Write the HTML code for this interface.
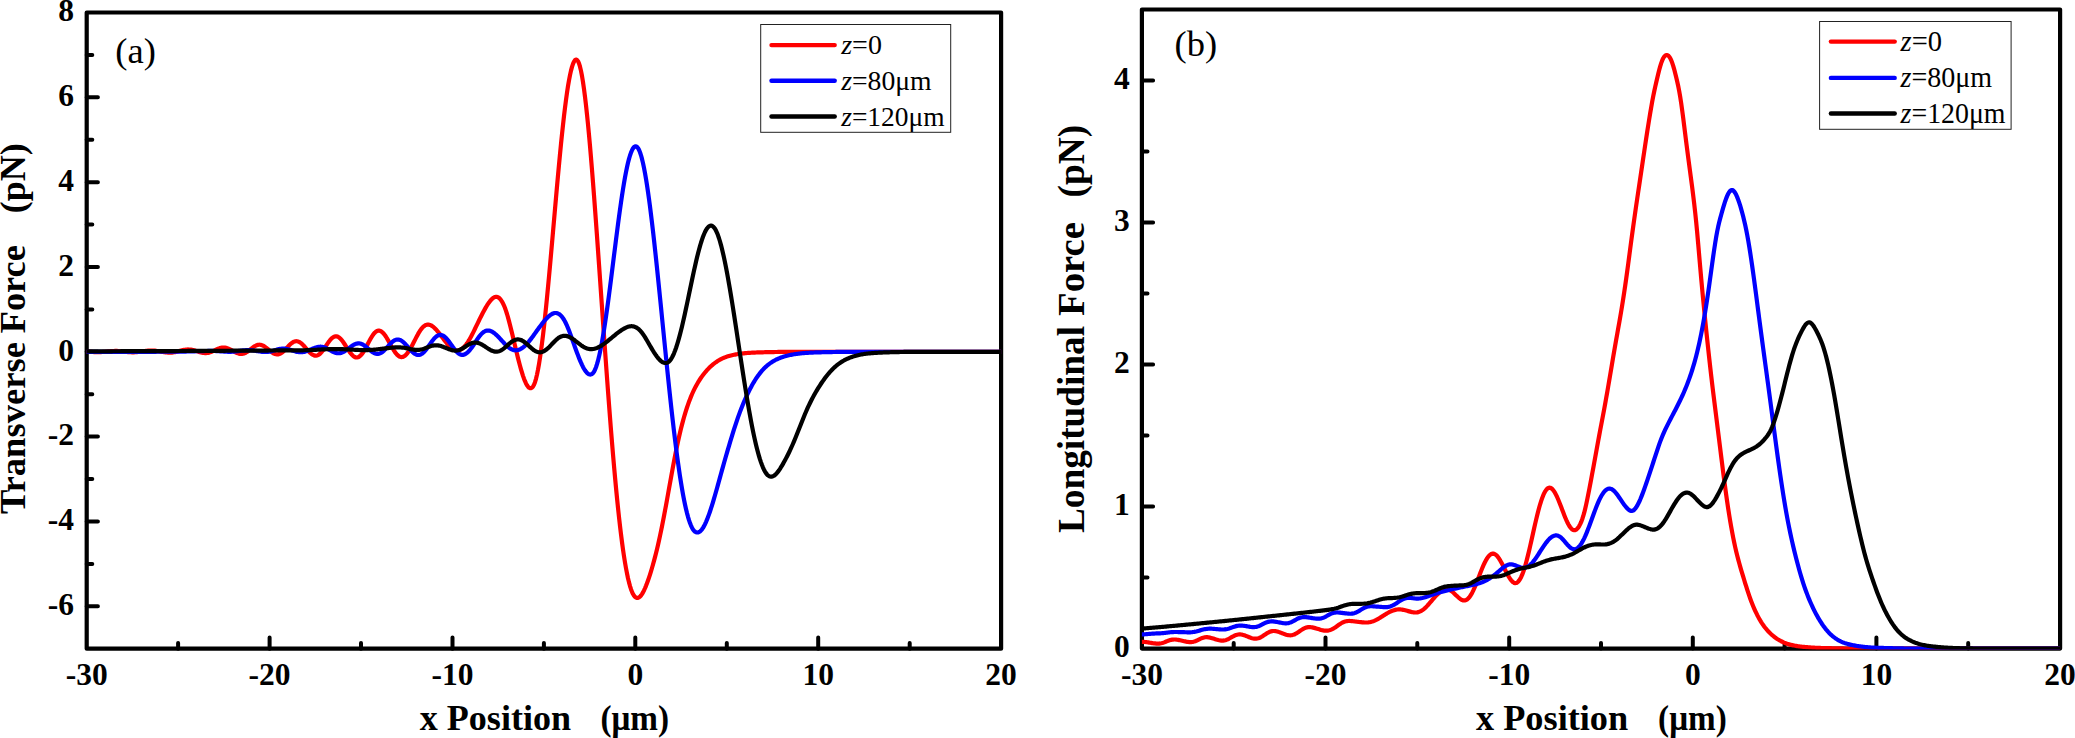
<!DOCTYPE html><html><head><meta charset="utf-8"><title>Optical force plots</title>
<style>html,body{margin:0;padding:0;background:#fff}svg{display:block}text{font-family:"Liberation Serif","DejaVu Serif",serif;fill:#000}.tk{font-weight:bold;font-size:31.5px}.ax{font-weight:bold;font-size:35px}.lg{font-size:28px}.pl{font-size:36.5px}</style></head><body>
<svg width="2075" height="738" viewBox="0 0 2075 738">
<rect width="2075" height="738" fill="#fff"/>
<defs><clipPath id="ca"><rect x="86.7" y="12.5" width="914.4" height="637.0"/></clipPath><clipPath id="cb"><rect x="1141.9" y="9.5" width="918.1500000000001" height="639.9"/></clipPath></defs>
<rect x="86.7" y="12.5" width="914.4" height="636.2" fill="none" stroke="#000" stroke-width="4.2" stroke-linejoin="round"/><text class="tk" x="86.7" y="685.4" text-anchor="middle">-30</text><text class="tk" x="269.6" y="685.4" text-anchor="middle">-20</text><text class="tk" x="452.5" y="685.4" text-anchor="middle">-10</text><text class="tk" x="635.3" y="685.4" text-anchor="middle">0</text><text class="tk" x="818.2" y="685.4" text-anchor="middle">10</text><text class="tk" x="1001.1" y="685.4" text-anchor="middle">20</text><text class="tk" x="74" y="615.1" text-anchor="end">-6</text><text class="tk" x="74" y="530.2" text-anchor="end">-4</text><text class="tk" x="74" y="445.4" text-anchor="end">-2</text><text class="tk" x="74" y="360.6" text-anchor="end">0</text><text class="tk" x="74" y="275.8" text-anchor="end">2</text><text class="tk" x="74" y="191.0" text-anchor="end">4</text><text class="tk" x="74" y="106.1" text-anchor="end">6</text><text class="tk" x="74" y="21.3" text-anchor="end">8</text><path d="M178.1,648.7V643.1M269.6,648.7V637.5M361.0,648.7V643.1M452.5,648.7V637.5M543.9,648.7V643.1M635.3,648.7V637.5M726.8,648.7V643.1M818.2,648.7V637.5M909.7,648.7V643.1M86.7,606.3H97.9M86.7,563.9H92.3M86.7,521.4H97.9M86.7,479.0H92.3M86.7,436.6H97.9M86.7,394.2H92.3M86.7,351.8H97.9M86.7,309.4H92.3M86.7,267.0H97.9M86.7,224.6H92.3M86.7,182.2H97.9M86.7,139.8H92.3M86.7,97.3H97.9M86.7,54.9H92.3" stroke="#000" stroke-width="4" stroke-linecap="round" fill="none"/>
<rect x="1141.9" y="9.5" width="918.2" height="639.1" fill="none" stroke="#000" stroke-width="4.2" stroke-linejoin="round"/><text class="tk" x="1141.9" y="685.4" text-anchor="middle">-30</text><text class="tk" x="1325.5" y="685.4" text-anchor="middle">-20</text><text class="tk" x="1509.2" y="685.4" text-anchor="middle">-10</text><text class="tk" x="1692.8" y="685.4" text-anchor="middle">0</text><text class="tk" x="1876.4" y="685.4" text-anchor="middle">10</text><text class="tk" x="2060.1" y="685.4" text-anchor="middle">20</text><text class="tk" x="1129.8" y="656.9" text-anchor="end">0</text><text class="tk" x="1129.8" y="514.9" text-anchor="end">1</text><text class="tk" x="1129.8" y="372.9" text-anchor="end">2</text><text class="tk" x="1129.8" y="230.9" text-anchor="end">3</text><text class="tk" x="1129.8" y="88.9" text-anchor="end">4</text><path d="M1233.7,648.6V643.0M1325.5,648.6V637.4M1417.3,648.6V643.0M1509.2,648.6V637.4M1601.0,648.6V643.0M1692.8,648.6V637.4M1784.6,648.6V643.0M1876.4,648.6V637.4M1968.2,648.6V643.0M1141.9,577.6H1147.5M1141.9,506.6H1153.1M1141.9,435.6H1147.5M1141.9,364.6H1153.1M1141.9,293.6H1147.5M1141.9,222.6H1153.1M1141.9,151.6H1147.5M1141.9,80.6H1153.1" stroke="#000" stroke-width="4" stroke-linecap="round" fill="none"/>
<g clip-path="url(#ca)">
<path d="M86.0,351.80 L87.0,351.81 L88.0,351.83 L89.0,351.85 L90.0,351.88 L91.0,351.92 L92.0,351.97 L93.0,352.01 L94.0,352.05 L95.0,352.09 L96.0,352.12 L97.0,352.14 L98.0,352.14 L99.0,352.13 L100.0,352.10 L101.0,352.06 L102.0,352.00 L103.0,351.92 L104.0,351.84 L105.0,351.74 L106.0,351.64 L107.0,351.54 L108.0,351.43 L109.0,351.33 L110.0,351.24 L111.0,351.15 L112.0,351.08 L113.0,351.02 L114.0,350.98 L115.0,350.96 L116.0,350.95 L117.0,350.97 L118.0,351.01 L119.0,351.07 L120.0,351.14 L121.0,351.24 L122.0,351.34 L123.0,351.46 L124.0,351.58 L125.0,351.70 L126.0,351.83 L127.0,351.94 L128.0,352.04 L129.0,352.14 L130.0,352.21 L131.0,352.26 L132.0,352.30 L133.0,352.31 L134.0,352.29 L135.0,352.26 L136.0,352.19 L137.0,352.11 L138.0,352.01 L139.0,351.89 L140.0,351.75 L141.0,351.61 L142.0,351.46 L143.0,351.31 L144.0,351.16 L145.0,351.02 L146.0,350.89 L147.0,350.78 L148.0,350.68 L149.0,350.61 L150.0,350.55 L151.0,350.53 L152.0,350.53 L153.0,350.57 L154.0,350.63 L155.0,350.71 L156.0,350.82 L157.0,350.96 L158.0,351.11 L159.0,351.28 L160.0,351.45 L161.0,351.63 L162.0,351.81 L163.0,351.98 L164.0,352.14 L165.0,352.29 L166.0,352.41 L167.0,352.52 L168.0,352.60 L169.0,352.64 L170.0,352.65 L171.0,352.62 L172.0,352.55 L173.0,352.44 L174.0,352.29 L175.0,352.10 L176.0,351.89 L177.0,351.64 L178.0,351.38 L179.0,351.11 L180.0,350.84 L181.0,350.58 L182.0,350.33 L183.0,350.10 L184.0,349.90 L185.0,349.73 L186.0,349.59 L187.0,349.51 L188.0,349.47 L189.0,349.48 L190.0,349.55 L191.0,349.67 L192.0,349.84 L193.0,350.06 L194.0,350.32 L195.0,350.61 L196.0,350.93 L197.0,351.25 L198.0,351.58 L199.0,351.89 L200.0,352.19 L201.0,352.45 L202.0,352.68 L203.0,352.87 L204.0,353.00 L205.0,353.07 L206.0,353.06 L207.0,352.99 L208.0,352.84 L209.0,352.61 L210.0,352.32 L211.0,351.97 L212.0,351.55 L213.0,351.10 L214.0,350.63 L215.0,350.15 L216.0,349.67 L217.0,349.21 L218.0,348.79 L219.0,348.41 L220.0,348.09 L221.0,347.84 L222.0,347.66 L223.0,347.57 L224.0,347.57 L225.0,347.66 L226.0,347.85 L227.0,348.11 L228.0,348.46 L229.0,348.88 L230.0,349.36 L231.0,349.89 L232.0,350.43 L233.0,350.99 L234.0,351.54 L235.0,352.06 L236.0,352.54 L237.0,352.98 L238.0,353.35 L239.0,353.64 L240.0,353.83 L241.0,353.92 L242.0,353.89 L243.0,353.74 L244.0,353.46 L245.0,353.07 L246.0,352.56 L247.0,351.94 L248.0,351.24 L249.0,350.47 L250.0,349.67 L251.0,348.87 L252.0,348.07 L253.0,347.32 L254.0,346.62 L255.0,346.01 L256.0,345.50 L257.0,345.11 L258.0,344.84 L259.0,344.71 L260.0,344.73 L261.0,344.89 L262.0,345.20 L263.0,345.63 L264.0,346.18 L265.0,346.84 L266.0,347.58 L267.0,348.38 L268.0,349.21 L269.0,350.05 L270.0,350.88 L271.0,351.67 L272.0,352.40 L273.0,353.04 L274.0,353.58 L275.0,353.99 L276.0,354.27 L277.0,354.40 L278.0,354.36 L279.0,354.15 L280.0,353.78 L281.0,353.25 L282.0,352.58 L283.0,351.77 L284.0,350.85 L285.0,349.84 L286.0,348.78 L287.0,347.69 L288.0,346.61 L289.0,345.56 L290.0,344.57 L291.0,343.66 L292.0,342.87 L293.0,342.22 L294.0,341.72 L295.0,341.38 L296.0,341.21 L297.0,341.24 L298.0,341.45 L299.0,341.84 L300.0,342.39 L301.0,343.10 L302.0,343.96 L303.0,344.93 L304.0,345.99 L305.0,347.12 L306.0,348.28 L307.0,349.44 L308.0,350.57 L309.0,351.65 L310.0,352.66 L311.0,353.56 L312.0,354.32 L313.0,354.94 L314.0,355.39 L315.0,355.65 L316.0,355.70 L317.0,355.52 L318.0,355.14 L319.0,354.54 L320.0,353.74 L321.0,352.75 L322.0,351.58 L323.0,350.27 L324.0,348.85 L325.0,347.37 L326.0,345.85 L327.0,344.33 L328.0,342.86 L329.0,341.46 L330.0,340.18 L331.0,339.03 L332.0,338.07 L333.0,337.30 L334.0,336.74 L335.0,336.40 L336.0,336.30 L337.0,336.45 L338.0,336.83 L339.0,337.44 L340.0,338.26 L341.0,339.27 L342.0,340.45 L343.0,341.79 L344.0,343.24 L345.0,344.77 L346.0,346.34 L347.0,347.93 L348.0,349.49 L349.0,351.00 L350.0,352.42 L351.0,353.72 L352.0,354.86 L353.0,355.82 L354.0,356.59 L355.0,357.13 L356.0,357.44 L357.0,357.49 L358.0,357.27 L359.0,356.79 L360.0,356.07 L361.0,355.11 L362.0,353.92 L363.0,352.53 L364.0,350.95 L365.0,349.22 L366.0,347.39 L367.0,345.49 L368.0,343.57 L369.0,341.65 L370.0,339.78 L371.0,338.00 L372.0,336.34 L373.0,334.85 L374.0,333.55 L375.0,332.48 L376.0,331.63 L377.0,331.03 L378.0,330.68 L379.0,330.61 L380.0,330.80 L381.0,331.25 L382.0,331.94 L383.0,332.86 L384.0,333.98 L385.0,335.29 L386.0,336.76 L387.0,338.37 L388.0,340.08 L389.0,341.85 L390.0,343.67 L391.0,345.49 L392.0,347.27 L393.0,349.00 L394.0,350.63 L395.0,352.13 L396.0,353.47 L397.0,354.62 L398.0,355.57 L399.0,356.30 L400.0,356.80 L401.0,357.06 L402.0,357.07 L403.0,356.84 L404.0,356.36 L405.0,355.66 L406.0,354.75 L407.0,353.64 L408.0,352.34 L409.0,350.87 L410.0,349.25 L411.0,347.52 L412.0,345.68 L413.0,343.78 L414.0,341.83 L415.0,339.87 L416.0,337.91 L417.0,336.00 L418.0,334.16 L419.0,332.42 L420.0,330.81 L421.0,329.36 L422.0,328.10 L423.0,327.02 L424.0,326.15 L425.0,325.46 L426.0,324.97 L427.0,324.67 L428.0,324.57 L429.0,324.67 L430.0,324.93 L431.0,325.36 L432.0,325.94 L433.0,326.65 L434.0,327.49 L435.0,328.43 L436.0,329.47 L437.0,330.59 L438.0,331.78 L439.0,333.03 L440.0,334.32 L441.0,335.65 L442.0,336.99 L443.0,338.34 L444.0,339.69 L445.0,341.02 L446.0,342.31 L447.0,343.56 L448.0,344.74 L449.0,345.85 L450.0,346.87 L451.0,347.78 L452.0,348.57 L453.0,349.25 L454.0,349.80 L455.0,350.21 L456.0,350.48 L457.0,350.60 L458.0,350.55 L459.0,350.35 L460.0,349.99 L461.0,349.47 L462.0,348.80 L463.0,347.99 L464.0,347.03 L465.0,345.93 L466.0,344.70 L467.0,343.33 L468.0,341.84 L469.0,340.22 L470.0,338.50 L471.0,336.69 L472.0,334.80 L473.0,332.84 L474.0,330.83 L475.0,328.78 L476.0,326.71 L477.0,324.63 L478.0,322.55 L479.0,320.49 L480.0,318.45 L481.0,316.44 L482.0,314.46 L483.0,312.54 L484.0,310.67 L485.0,308.87 L486.0,307.13 L487.0,305.48 L488.0,303.93 L489.0,302.47 L490.0,301.14 L491.0,299.95 L492.0,298.92 L493.0,298.08 L494.0,297.43 L495.0,297.01 L496.0,296.82 L497.0,296.89 L498.0,297.24 L499.0,297.88 L500.0,298.81 L501.0,300.04 L502.0,301.57 L503.0,303.42 L504.0,305.58 L505.0,308.06 L506.0,310.87 L507.0,314.00 L508.0,317.42 L509.0,321.08 L510.0,324.93 L511.0,328.95 L512.0,333.09 L513.0,337.29 L514.0,341.54 L515.0,345.78 L516.0,349.97 L517.0,354.10 L518.0,358.13 L519.0,362.04 L520.0,365.79 L521.0,369.36 L522.0,372.71 L523.0,375.83 L524.0,378.67 L525.0,381.21 L526.0,383.41 L527.0,385.24 L528.0,386.67 L529.0,387.67 L530.0,388.20 L531.0,388.23 L532.0,387.72 L533.0,386.60 L534.0,384.79 L535.0,382.21 L536.0,378.81 L537.0,374.62 L538.0,369.68 L539.0,364.04 L540.0,357.74 L541.0,350.80 L542.0,343.26 L543.0,335.14 L544.0,326.47 L545.0,317.31 L546.0,307.69 L547.0,297.67 L548.0,287.30 L549.0,276.62 L550.0,265.69 L551.0,254.55 L552.0,243.27 L553.0,231.89 L554.0,220.47 L555.0,209.08 L556.0,197.75 L557.0,186.55 L558.0,175.52 L559.0,164.74 L560.0,154.23 L561.0,144.07 L562.0,134.29 L563.0,124.94 L564.0,116.07 L565.0,107.72 L566.0,99.93 L567.0,92.74 L568.0,86.18 L569.0,80.30 L570.0,75.12 L571.0,70.65 L572.0,66.90 L573.0,63.88 L574.0,61.62 L575.0,60.17 L576.0,59.60 L577.0,59.94 L578.0,61.23 L579.0,63.47 L580.0,66.68 L581.0,70.87 L582.0,76.01 L583.0,82.07 L584.0,89.00 L585.0,96.74 L586.0,105.24 L587.0,114.47 L588.0,124.38 L589.0,134.92 L590.0,146.04 L591.0,157.71 L592.0,169.86 L593.0,182.46 L594.0,195.43 L595.0,208.75 L596.0,222.36 L597.0,236.20 L598.0,250.23 L599.0,264.41 L600.0,278.68 L601.0,293.00 L602.0,307.33 L603.0,321.63 L604.0,335.85 L605.0,349.95 L606.0,363.89 L607.0,377.65 L608.0,391.17 L609.0,404.44 L610.0,417.43 L611.0,430.09 L612.0,442.41 L613.0,454.36 L614.0,465.92 L615.0,477.06 L616.0,487.77 L617.0,498.03 L618.0,507.83 L619.0,517.15 L620.0,525.98 L621.0,534.31 L622.0,542.14 L623.0,549.45 L624.0,556.24 L625.0,562.51 L626.0,568.25 L627.0,573.48 L628.0,578.19 L629.0,582.38 L630.0,586.06 L631.0,589.22 L632.0,591.88 L633.0,594.02 L634.0,595.67 L635.0,596.84 L636.0,597.57 L637.0,597.88 L638.0,597.81 L639.0,597.38 L640.0,596.61 L641.0,595.50 L642.0,594.10 L643.0,592.40 L644.0,590.45 L645.0,588.25 L646.0,585.85 L647.0,583.25 L648.0,580.49 L649.0,577.58 L650.0,574.53 L651.0,571.34 L652.0,568.01 L653.0,564.54 L654.0,560.92 L655.0,557.15 L656.0,553.23 L657.0,549.15 L658.0,544.91 L659.0,540.49 L660.0,535.91 L661.0,531.17 L662.0,526.26 L663.0,521.20 L664.0,516.00 L665.0,510.69 L666.0,505.28 L667.0,499.79 L668.0,494.25 L669.0,488.68 L670.0,483.12 L671.0,477.58 L672.0,472.10 L673.0,466.69 L674.0,461.39 L675.0,456.20 L676.0,451.16 L677.0,446.28 L678.0,441.58 L679.0,437.06 L680.0,432.72 L681.0,428.58 L682.0,424.62 L683.0,420.85 L684.0,417.26 L685.0,413.84 L686.0,410.59 L687.0,407.50 L688.0,404.56 L689.0,401.78 L690.0,399.14 L691.0,396.64 L692.0,394.27 L693.0,392.02 L694.0,389.89 L695.0,387.88 L696.0,385.97 L697.0,384.16 L698.0,382.44 L699.0,380.81 L700.0,379.25 L701.0,377.78 L702.0,376.37 L703.0,375.02 L704.0,373.74 L705.0,372.51 L706.0,371.33 L707.0,370.21 L708.0,369.13 L709.0,368.10 L710.0,367.12 L711.0,366.18 L712.0,365.29 L713.0,364.44 L714.0,363.64 L715.0,362.88 L716.0,362.16 L717.0,361.48 L718.0,360.84 L719.0,360.23 L720.0,359.67 L721.0,359.14 L722.0,358.64 L723.0,358.18 L724.0,357.75 L725.0,357.35 L726.0,356.97 L727.0,356.62 L728.0,356.30 L729.0,356.00 L730.0,355.71 L731.0,355.45 L732.0,355.21 L733.0,354.98 L734.0,354.77 L735.0,354.57 L736.0,354.38 L737.0,354.21 L738.0,354.05 L739.0,353.90 L740.0,353.76 L741.0,353.63 L742.0,353.51 L743.0,353.40 L744.0,353.29 L745.0,353.20 L746.0,353.11 L747.0,353.03 L748.0,352.95 L749.0,352.88 L750.0,352.81 L751.0,352.75 L752.0,352.70 L753.0,352.64 L754.0,352.60 L755.0,352.55 L756.0,352.51 L757.0,352.47 L758.0,352.43 L759.0,352.40 L760.0,352.37 L761.0,352.33 L762.0,352.31 L763.0,352.28 L764.0,352.25 L765.0,352.22 L766.0,352.20 L767.0,352.17 L768.0,352.15 L769.0,352.13 L770.0,352.11 L771.0,352.09 L772.0,352.07 L773.0,352.05 L774.0,352.03 L775.0,352.02 L776.0,352.00 L777.0,351.99 L778.0,351.97 L779.0,351.96 L780.0,351.95 L781.0,351.94 L782.0,351.93 L783.0,351.92 L784.0,351.91 L785.0,351.91 L786.0,351.90 L787.0,351.89 L788.0,351.89 L789.0,351.88 L790.0,351.88 L791.0,351.88 L792.0,351.87 L793.0,351.87 L794.0,351.87 L795.0,351.86 L796.0,351.86 L797.0,351.86 L798.0,351.86 L799.0,351.85 L800.0,351.85 L801.0,351.85 L802.0,351.84 L803.0,351.84 L804.0,351.84 L805.0,351.84 L806.0,351.83 L807.0,351.83 L808.0,351.83 L809.0,351.83 L810.0,351.82 L811.0,351.82 L812.0,351.82 L813.0,351.81 L814.0,351.81 L815.0,351.81 L816.0,351.81 L817.0,351.81 L818.0,351.80 L819.0,351.80 L820.0,351.80 L821.0,351.80 L822.0,351.80 L823.0,351.80 L824.0,351.80 L825.0,351.79 L826.0,351.79 L827.0,351.79 L828.0,351.79 L829.0,351.79 L830.0,351.79 L831.0,351.79 L832.0,351.79 L833.0,351.79 L834.0,351.79 L835.0,351.79 L836.0,351.79 L837.0,351.79 L838.0,351.79 L839.0,351.79 L840.0,351.79 L841.0,351.80 L842.0,351.80 L843.0,351.80 L844.0,351.80 L845.0,351.80 L846.0,351.80 L847.0,351.80 L848.0,351.80 L849.0,351.80 L850.0,351.80 L851.0,351.80 L852.0,351.80 L853.0,351.80 L854.0,351.80 L855.0,351.80 L856.0,351.80 L857.0,351.80 L858.0,351.80 L859.0,351.80 L860.0,351.80 L861.0,351.80 L862.0,351.80 L863.0,351.80 L864.0,351.80 L865.0,351.80 L866.0,351.80 L867.0,351.80 L868.0,351.80 L869.0,351.80 L870.0,351.80 L871.0,351.80 L872.0,351.80 L873.0,351.80 L874.0,351.80 L875.0,351.80 L876.0,351.80 L877.0,351.80 L878.0,351.80 L879.0,351.80 L880.0,351.80 L881.0,351.80 L882.0,351.80 L883.0,351.80 L884.0,351.80 L885.0,351.80 L886.0,351.80 L887.0,351.80 L888.0,351.80 L889.0,351.80 L890.0,351.80 L891.0,351.80 L892.0,351.80 L893.0,351.80 L894.0,351.80 L895.0,351.80 L896.0,351.80 L897.0,351.80 L898.0,351.80 L899.0,351.80 L900.0,351.80 L901.0,351.80 L902.0,351.80 L903.0,351.80 L904.0,351.80 L905.0,351.80 L906.0,351.80 L907.0,351.80 L908.0,351.80 L909.0,351.80 L910.0,351.80 L911.0,351.80 L912.0,351.80 L913.0,351.80 L914.0,351.80 L915.0,351.80 L916.0,351.80 L917.0,351.80 L918.0,351.80 L919.0,351.80 L920.0,351.80 L921.0,351.80 L922.0,351.80 L923.0,351.80 L924.0,351.80 L925.0,351.80 L926.0,351.80 L927.0,351.80 L928.0,351.80 L929.0,351.80 L930.0,351.80 L931.0,351.80 L932.0,351.80 L933.0,351.80 L934.0,351.80 L935.0,351.80 L936.0,351.80 L937.0,351.80 L938.0,351.80 L939.0,351.80 L940.0,351.80 L941.0,351.80 L942.0,351.80 L943.0,351.80 L944.0,351.80 L945.0,351.80 L946.0,351.80 L947.0,351.80 L948.0,351.80 L949.0,351.80 L950.0,351.80 L951.0,351.80 L952.0,351.80 L953.0,351.80 L954.0,351.80 L955.0,351.80 L956.0,351.80 L957.0,351.80 L958.0,351.80 L959.0,351.80 L960.0,351.80 L961.0,351.80 L962.0,351.80 L963.0,351.80 L964.0,351.80 L965.0,351.80 L966.0,351.80 L967.0,351.80 L968.0,351.80 L969.0,351.80 L970.0,351.80 L971.0,351.80 L972.0,351.80 L973.0,351.80 L974.0,351.80 L975.0,351.80 L976.0,351.80 L977.0,351.80 L978.0,351.80 L979.0,351.80 L980.0,351.80 L981.0,351.80 L982.0,351.80 L983.0,351.80 L984.0,351.80 L985.0,351.80 L986.0,351.80 L987.0,351.80 L988.0,351.80 L989.0,351.80 L990.0,351.80 L991.0,351.80 L992.0,351.80 L993.0,351.80 L994.0,351.80 L995.0,351.80 L996.0,351.80 L997.0,351.80 L998.0,351.80 L999.0,351.80 L1000.0,351.80 L1001.0,351.80" fill="none" stroke="#ff0000" stroke-width="4.2" stroke-linejoin="round" stroke-linecap="round"/>
<path d="M86.0,351.80 L87.0,351.80 L88.0,351.80 L89.0,351.80 L90.0,351.80 L91.0,351.80 L92.0,351.80 L93.0,351.80 L94.0,351.80 L95.0,351.80 L96.0,351.80 L97.0,351.80 L98.0,351.80 L99.0,351.80 L100.0,351.80 L101.0,351.80 L102.0,351.80 L103.0,351.80 L104.0,351.80 L105.0,351.80 L106.0,351.80 L107.0,351.80 L108.0,351.80 L109.0,351.80 L110.0,351.80 L111.0,351.80 L112.0,351.80 L113.0,351.80 L114.0,351.80 L115.0,351.80 L116.0,351.80 L117.0,351.80 L118.0,351.80 L119.0,351.80 L120.0,351.80 L121.0,351.80 L122.0,351.80 L123.0,351.80 L124.0,351.80 L125.0,351.80 L126.0,351.80 L127.0,351.80 L128.0,351.80 L129.0,351.80 L130.0,351.80 L131.0,351.80 L132.0,351.80 L133.0,351.80 L134.0,351.80 L135.0,351.80 L136.0,351.80 L137.0,351.80 L138.0,351.80 L139.0,351.80 L140.0,351.80 L141.0,351.80 L142.0,351.80 L143.0,351.80 L144.0,351.80 L145.0,351.80 L146.0,351.80 L147.0,351.80 L148.0,351.80 L149.0,351.80 L150.0,351.80 L151.0,351.80 L152.0,351.80 L153.0,351.79 L154.0,351.79 L155.0,351.78 L156.0,351.78 L157.0,351.77 L158.0,351.77 L159.0,351.76 L160.0,351.75 L161.0,351.74 L162.0,351.73 L163.0,351.72 L164.0,351.71 L165.0,351.69 L166.0,351.68 L167.0,351.67 L168.0,351.66 L169.0,351.65 L170.0,351.64 L171.0,351.63 L172.0,351.62 L173.0,351.62 L174.0,351.61 L175.0,351.61 L176.0,351.60 L177.0,351.60 L178.0,351.60 L179.0,351.59 L180.0,351.59 L181.0,351.58 L182.0,351.58 L183.0,351.57 L184.0,351.56 L185.0,351.55 L186.0,351.53 L187.0,351.51 L188.0,351.49 L189.0,351.47 L190.0,351.45 L191.0,351.42 L192.0,351.39 L193.0,351.36 L194.0,351.33 L195.0,351.30 L196.0,351.27 L197.0,351.24 L198.0,351.21 L199.0,351.18 L200.0,351.15 L201.0,351.12 L202.0,351.10 L203.0,351.07 L204.0,351.04 L205.0,351.02 L206.0,351.00 L207.0,350.98 L208.0,350.97 L209.0,350.95 L210.0,350.95 L211.0,350.95 L212.0,350.95 L213.0,350.96 L214.0,350.98 L215.0,351.01 L216.0,351.05 L217.0,351.10 L218.0,351.16 L219.0,351.23 L220.0,351.30 L221.0,351.38 L222.0,351.45 L223.0,351.52 L224.0,351.59 L225.0,351.65 L226.0,351.70 L227.0,351.75 L228.0,351.78 L229.0,351.80 L230.0,351.80 L231.0,351.78 L232.0,351.74 L233.0,351.68 L234.0,351.60 L235.0,351.50 L236.0,351.38 L237.0,351.24 L238.0,351.10 L239.0,350.95 L240.0,350.80 L241.0,350.66 L242.0,350.53 L243.0,350.41 L244.0,350.30 L245.0,350.22 L246.0,350.15 L247.0,350.12 L248.0,350.10 L249.0,350.12 L250.0,350.16 L251.0,350.23 L252.0,350.33 L253.0,350.44 L254.0,350.58 L255.0,350.73 L256.0,350.89 L257.0,351.06 L258.0,351.22 L259.0,351.38 L260.0,351.53 L261.0,351.67 L262.0,351.79 L263.0,351.89 L264.0,351.97 L265.0,352.01 L266.0,352.01 L267.0,351.97 L268.0,351.89 L269.0,351.76 L270.0,351.59 L271.0,351.37 L272.0,351.11 L273.0,350.83 L274.0,350.53 L275.0,350.22 L276.0,349.92 L277.0,349.63 L278.0,349.36 L279.0,349.13 L280.0,348.93 L281.0,348.78 L282.0,348.67 L283.0,348.62 L284.0,348.63 L285.0,348.70 L286.0,348.82 L287.0,348.99 L288.0,349.21 L289.0,349.47 L290.0,349.77 L291.0,350.08 L292.0,350.41 L293.0,350.73 L294.0,351.04 L295.0,351.34 L296.0,351.61 L297.0,351.83 L298.0,352.01 L299.0,352.14 L300.0,352.21 L301.0,352.22 L302.0,352.16 L303.0,352.04 L304.0,351.86 L305.0,351.62 L306.0,351.32 L307.0,350.98 L308.0,350.60 L309.0,350.19 L310.0,349.77 L311.0,349.34 L312.0,348.91 L313.0,348.50 L314.0,348.11 L315.0,347.75 L316.0,347.43 L317.0,347.15 L318.0,346.94 L319.0,346.79 L320.0,346.72 L321.0,346.72 L322.0,346.82 L323.0,346.99 L324.0,347.26 L325.0,347.60 L326.0,348.03 L327.0,348.52 L328.0,349.06 L329.0,349.62 L330.0,350.20 L331.0,350.77 L332.0,351.31 L333.0,351.82 L334.0,352.27 L335.0,352.65 L336.0,352.95 L337.0,353.16 L338.0,353.27 L339.0,353.27 L340.0,353.15 L341.0,352.92 L342.0,352.59 L343.0,352.16 L344.0,351.63 L345.0,351.01 L346.0,350.33 L347.0,349.60 L348.0,348.84 L349.0,348.07 L350.0,347.31 L351.0,346.57 L352.0,345.88 L353.0,345.24 L354.0,344.67 L355.0,344.20 L356.0,343.83 L357.0,343.56 L358.0,343.42 L359.0,343.41 L360.0,343.54 L361.0,343.80 L362.0,344.18 L363.0,344.69 L364.0,345.31 L365.0,346.02 L366.0,346.81 L367.0,347.65 L368.0,348.52 L369.0,349.39 L370.0,350.23 L371.0,351.04 L372.0,351.78 L373.0,352.44 L374.0,352.99 L375.0,353.43 L376.0,353.73 L377.0,353.88 L378.0,353.88 L379.0,353.71 L380.0,353.37 L381.0,352.89 L382.0,352.26 L383.0,351.49 L384.0,350.59 L385.0,349.60 L386.0,348.54 L387.0,347.43 L388.0,346.31 L389.0,345.19 L390.0,344.12 L391.0,343.10 L392.0,342.17 L393.0,341.36 L394.0,340.68 L395.0,340.14 L396.0,339.76 L397.0,339.54 L398.0,339.51 L399.0,339.65 L400.0,339.97 L401.0,340.45 L402.0,341.08 L403.0,341.85 L404.0,342.75 L405.0,343.76 L406.0,344.84 L407.0,345.97 L408.0,347.13 L409.0,348.30 L410.0,349.44 L411.0,350.53 L412.0,351.55 L413.0,352.47 L414.0,353.28 L415.0,353.95 L416.0,354.47 L417.0,354.82 L418.0,354.99 L419.0,354.96 L420.0,354.74 L421.0,354.32 L422.0,353.72 L423.0,352.95 L424.0,352.01 L425.0,350.91 L426.0,349.68 L427.0,348.36 L428.0,346.96 L429.0,345.53 L430.0,344.08 L431.0,342.65 L432.0,341.27 L433.0,339.97 L434.0,338.76 L435.0,337.69 L436.0,336.78 L437.0,336.03 L438.0,335.46 L439.0,335.09 L440.0,334.91 L441.0,334.95 L442.0,335.19 L443.0,335.63 L444.0,336.26 L445.0,337.05 L446.0,338.01 L447.0,339.10 L448.0,340.32 L449.0,341.63 L450.0,343.00 L451.0,344.40 L452.0,345.82 L453.0,347.22 L454.0,348.58 L455.0,349.86 L456.0,351.04 L457.0,352.09 L458.0,353.00 L459.0,353.74 L460.0,354.30 L461.0,354.69 L462.0,354.88 L463.0,354.87 L464.0,354.66 L465.0,354.26 L466.0,353.69 L467.0,352.94 L468.0,352.04 L469.0,351.00 L470.0,349.82 L471.0,348.53 L472.0,347.15 L473.0,345.71 L474.0,344.22 L475.0,342.70 L476.0,341.18 L477.0,339.68 L478.0,338.23 L479.0,336.85 L480.0,335.56 L481.0,334.40 L482.0,333.37 L483.0,332.50 L484.0,331.78 L485.0,331.22 L486.0,330.81 L487.0,330.57 L488.0,330.49 L489.0,330.56 L490.0,330.79 L491.0,331.15 L492.0,331.63 L493.0,332.23 L494.0,332.93 L495.0,333.73 L496.0,334.60 L497.0,335.54 L498.0,336.53 L499.0,337.57 L500.0,338.64 L501.0,339.74 L502.0,340.84 L503.0,341.94 L504.0,343.03 L505.0,344.08 L506.0,345.09 L507.0,346.04 L508.0,346.92 L509.0,347.70 L510.0,348.40 L511.0,348.99 L512.0,349.47 L513.0,349.85 L514.0,350.11 L515.0,350.27 L516.0,350.30 L517.0,350.21 L518.0,350.01 L519.0,349.70 L520.0,349.29 L521.0,348.76 L522.0,348.14 L523.0,347.43 L524.0,346.62 L525.0,345.73 L526.0,344.75 L527.0,343.69 L528.0,342.57 L529.0,341.38 L530.0,340.13 L531.0,338.84 L532.0,337.51 L533.0,336.15 L534.0,334.77 L535.0,333.38 L536.0,331.98 L537.0,330.58 L538.0,329.20 L539.0,327.82 L540.0,326.47 L541.0,325.14 L542.0,323.85 L543.0,322.59 L544.0,321.37 L545.0,320.20 L546.0,319.08 L547.0,318.03 L548.0,317.03 L549.0,316.12 L550.0,315.30 L551.0,314.59 L552.0,313.99 L553.0,313.51 L554.0,313.18 L555.0,313.00 L556.0,312.99 L557.0,313.15 L558.0,313.50 L559.0,314.04 L560.0,314.77 L561.0,315.71 L562.0,316.84 L563.0,318.19 L564.0,319.75 L565.0,321.52 L566.0,323.51 L567.0,325.70 L568.0,328.06 L569.0,330.57 L570.0,333.20 L571.0,335.92 L572.0,338.71 L573.0,341.53 L574.0,344.37 L575.0,347.18 L576.0,349.97 L577.0,352.69 L578.0,355.35 L579.0,357.92 L580.0,360.37 L581.0,362.70 L582.0,364.89 L583.0,366.90 L584.0,368.73 L585.0,370.35 L586.0,371.74 L587.0,372.88 L588.0,373.74 L589.0,374.30 L590.0,374.55 L591.0,374.45 L592.0,373.98 L593.0,373.08 L594.0,371.69 L595.0,369.75 L596.0,367.24 L597.0,364.19 L598.0,360.64 L599.0,356.61 L600.0,352.12 L601.0,347.20 L602.0,341.85 L603.0,336.11 L604.0,329.99 L605.0,323.53 L606.0,316.76 L607.0,309.72 L608.0,302.43 L609.0,294.93 L610.0,287.26 L611.0,279.46 L612.0,271.56 L613.0,263.59 L614.0,255.61 L615.0,247.65 L616.0,239.74 L617.0,231.93 L618.0,224.26 L619.0,216.76 L620.0,209.47 L621.0,202.42 L622.0,195.66 L623.0,189.22 L624.0,183.12 L625.0,177.40 L626.0,172.10 L627.0,167.22 L628.0,162.81 L629.0,158.89 L630.0,155.47 L631.0,152.57 L632.0,150.19 L633.0,148.36 L634.0,147.10 L635.0,146.42 L636.0,146.34 L637.0,146.89 L638.0,148.06 L639.0,149.86 L640.0,152.27 L641.0,155.30 L642.0,158.92 L643.0,163.12 L644.0,167.87 L645.0,173.15 L646.0,178.93 L647.0,185.18 L648.0,191.89 L649.0,199.02 L650.0,206.55 L651.0,214.45 L652.0,222.70 L653.0,231.25 L654.0,240.09 L655.0,249.18 L656.0,258.49 L657.0,268.00 L658.0,277.66 L659.0,287.46 L660.0,297.36 L661.0,307.33 L662.0,317.35 L663.0,327.38 L664.0,337.40 L665.0,347.38 L666.0,357.29 L667.0,367.11 L668.0,376.81 L669.0,386.37 L670.0,395.77 L671.0,404.98 L672.0,413.98 L673.0,422.75 L674.0,431.28 L675.0,439.54 L676.0,447.52 L677.0,455.21 L678.0,462.58 L679.0,469.63 L680.0,476.34 L681.0,482.70 L682.0,488.71 L683.0,494.35 L684.0,499.61 L685.0,504.50 L686.0,508.99 L687.0,513.10 L688.0,516.82 L689.0,520.15 L690.0,523.08 L691.0,525.60 L692.0,527.73 L693.0,529.44 L694.0,530.75 L695.0,531.68 L696.0,532.25 L697.0,532.49 L698.0,532.43 L699.0,532.07 L700.0,531.43 L701.0,530.50 L702.0,529.31 L703.0,527.86 L704.0,526.15 L705.0,524.21 L706.0,522.05 L707.0,519.67 L708.0,517.11 L709.0,514.38 L710.0,511.49 L711.0,508.46 L712.0,505.31 L713.0,502.06 L714.0,498.70 L715.0,495.27 L716.0,491.76 L717.0,488.21 L718.0,484.61 L719.0,481.00 L720.0,477.37 L721.0,473.76 L722.0,470.15 L723.0,466.58 L724.0,463.03 L725.0,459.52 L726.0,456.04 L727.0,452.60 L728.0,449.19 L729.0,445.81 L730.0,442.46 L731.0,439.15 L732.0,435.88 L733.0,432.64 L734.0,429.47 L735.0,426.34 L736.0,423.29 L737.0,420.31 L738.0,417.41 L739.0,414.59 L740.0,411.86 L741.0,409.22 L742.0,406.67 L743.0,404.20 L744.0,401.81 L745.0,399.50 L746.0,397.27 L747.0,395.11 L748.0,393.02 L749.0,391.00 L750.0,389.05 L751.0,387.16 L752.0,385.34 L753.0,383.58 L754.0,381.89 L755.0,380.27 L756.0,378.71 L757.0,377.21 L758.0,375.78 L759.0,374.42 L760.0,373.12 L761.0,371.88 L762.0,370.70 L763.0,369.59 L764.0,368.54 L765.0,367.54 L766.0,366.60 L767.0,365.71 L768.0,364.88 L769.0,364.09 L770.0,363.35 L771.0,362.65 L772.0,361.99 L773.0,361.38 L774.0,360.80 L775.0,360.25 L776.0,359.73 L777.0,359.25 L778.0,358.79 L779.0,358.36 L780.0,357.96 L781.0,357.58 L782.0,357.22 L783.0,356.88 L784.0,356.57 L785.0,356.27 L786.0,355.99 L787.0,355.73 L788.0,355.49 L789.0,355.26 L790.0,355.04 L791.0,354.83 L792.0,354.64 L793.0,354.46 L794.0,354.29 L795.0,354.14 L796.0,353.99 L797.0,353.85 L798.0,353.72 L799.0,353.60 L800.0,353.48 L801.0,353.37 L802.0,353.28 L803.0,353.18 L804.0,353.10 L805.0,353.02 L806.0,352.94 L807.0,352.87 L808.0,352.81 L809.0,352.75 L810.0,352.69 L811.0,352.64 L812.0,352.59 L813.0,352.55 L814.0,352.51 L815.0,352.47 L816.0,352.43 L817.0,352.40 L818.0,352.37 L819.0,352.33 L820.0,352.31 L821.0,352.28 L822.0,352.25 L823.0,352.22 L824.0,352.20 L825.0,352.17 L826.0,352.15 L827.0,352.13 L828.0,352.11 L829.0,352.09 L830.0,352.07 L831.0,352.05 L832.0,352.03 L833.0,352.02 L834.0,352.00 L835.0,351.99 L836.0,351.97 L837.0,351.96 L838.0,351.95 L839.0,351.94 L840.0,351.93 L841.0,351.92 L842.0,351.91 L843.0,351.91 L844.0,351.90 L845.0,351.89 L846.0,351.89 L847.0,351.88 L848.0,351.88 L849.0,351.87 L850.0,351.87 L851.0,351.86 L852.0,351.86 L853.0,351.86 L854.0,351.85 L855.0,351.85 L856.0,351.85 L857.0,351.84 L858.0,351.84 L859.0,351.84 L860.0,351.83 L861.0,351.83 L862.0,351.82 L863.0,351.82 L864.0,351.82 L865.0,351.81 L866.0,351.81 L867.0,351.81 L868.0,351.80 L869.0,351.80 L870.0,351.80 L871.0,351.80 L872.0,351.80 L873.0,351.79 L874.0,351.79 L875.0,351.79 L876.0,351.79 L877.0,351.79 L878.0,351.79 L879.0,351.79 L880.0,351.79 L881.0,351.79 L882.0,351.79 L883.0,351.79 L884.0,351.79 L885.0,351.79 L886.0,351.79 L887.0,351.79 L888.0,351.79 L889.0,351.79 L890.0,351.79 L891.0,351.79 L892.0,351.79 L893.0,351.79 L894.0,351.80 L895.0,351.80 L896.0,351.80 L897.0,351.80 L898.0,351.80 L899.0,351.80 L900.0,351.80 L901.0,351.80 L902.0,351.80 L903.0,351.80 L904.0,351.80 L905.0,351.80 L906.0,351.80 L907.0,351.80 L908.0,351.80 L909.0,351.80 L910.0,351.80 L911.0,351.80 L912.0,351.80 L913.0,351.80 L914.0,351.80 L915.0,351.80 L916.0,351.80 L917.0,351.80 L918.0,351.80 L919.0,351.80 L920.0,351.80 L921.0,351.80 L922.0,351.80 L923.0,351.80 L924.0,351.80 L925.0,351.80 L926.0,351.80 L927.0,351.80 L928.0,351.80 L929.0,351.80 L930.0,351.80 L931.0,351.80 L932.0,351.80 L933.0,351.80 L934.0,351.80 L935.0,351.80 L936.0,351.80 L937.0,351.80 L938.0,351.80 L939.0,351.80 L940.0,351.80 L941.0,351.80 L942.0,351.80 L943.0,351.80 L944.0,351.80 L945.0,351.80 L946.0,351.80 L947.0,351.80 L948.0,351.80 L949.0,351.80 L950.0,351.80 L951.0,351.80 L952.0,351.80 L953.0,351.80 L954.0,351.80 L955.0,351.80 L956.0,351.80 L957.0,351.80 L958.0,351.80 L959.0,351.80 L960.0,351.80 L961.0,351.80 L962.0,351.80 L963.0,351.80 L964.0,351.80 L965.0,351.80 L966.0,351.80 L967.0,351.80 L968.0,351.80 L969.0,351.80 L970.0,351.80 L971.0,351.80 L972.0,351.80 L973.0,351.80 L974.0,351.80 L975.0,351.80 L976.0,351.80 L977.0,351.80 L978.0,351.80 L979.0,351.80 L980.0,351.80 L981.0,351.80 L982.0,351.80 L983.0,351.80 L984.0,351.80 L985.0,351.80 L986.0,351.80 L987.0,351.80 L988.0,351.80 L989.0,351.80 L990.0,351.80 L991.0,351.80 L992.0,351.80 L993.0,351.80 L994.0,351.80 L995.0,351.80 L996.0,351.80 L997.0,351.80 L998.0,351.80 L999.0,351.80 L1000.0,351.80 L1001.0,351.80" fill="none" stroke="#0000ff" stroke-width="4.2" stroke-linejoin="round" stroke-linecap="round"/>
<path d="M86.0,351.38 L87.0,351.37 L88.0,351.37 L89.0,351.37 L90.0,351.37 L91.0,351.37 L92.0,351.37 L93.0,351.36 L94.0,351.36 L95.0,351.36 L96.0,351.36 L97.0,351.35 L98.0,351.35 L99.0,351.35 L100.0,351.34 L101.0,351.34 L102.0,351.33 L103.0,351.33 L104.0,351.32 L105.0,351.32 L106.0,351.31 L107.0,351.31 L108.0,351.30 L109.0,351.30 L110.0,351.29 L111.0,351.28 L112.0,351.28 L113.0,351.27 L114.0,351.26 L115.0,351.26 L116.0,351.25 L117.0,351.24 L118.0,351.24 L119.0,351.23 L120.0,351.23 L121.0,351.22 L122.0,351.22 L123.0,351.21 L124.0,351.21 L125.0,351.20 L126.0,351.20 L127.0,351.19 L128.0,351.19 L129.0,351.19 L130.0,351.18 L131.0,351.18 L132.0,351.18 L133.0,351.18 L134.0,351.17 L135.0,351.17 L136.0,351.17 L137.0,351.17 L138.0,351.17 L139.0,351.17 L140.0,351.16 L141.0,351.16 L142.0,351.16 L143.0,351.16 L144.0,351.16 L145.0,351.16 L146.0,351.15 L147.0,351.15 L148.0,351.15 L149.0,351.15 L150.0,351.15 L151.0,351.14 L152.0,351.14 L153.0,351.14 L154.0,351.14 L155.0,351.13 L156.0,351.13 L157.0,351.13 L158.0,351.12 L159.0,351.12 L160.0,351.11 L161.0,351.11 L162.0,351.10 L163.0,351.10 L164.0,351.09 L165.0,351.09 L166.0,351.08 L167.0,351.08 L168.0,351.07 L169.0,351.06 L170.0,351.06 L171.0,351.05 L172.0,351.05 L173.0,351.04 L174.0,351.03 L175.0,351.03 L176.0,351.02 L177.0,351.02 L178.0,351.01 L179.0,351.01 L180.0,351.00 L181.0,351.00 L182.0,350.99 L183.0,350.99 L184.0,350.99 L185.0,350.98 L186.0,350.98 L187.0,350.98 L188.0,350.97 L189.0,350.97 L190.0,350.97 L191.0,350.97 L192.0,350.97 L193.0,350.96 L194.0,350.96 L195.0,350.96 L196.0,350.96 L197.0,350.96 L198.0,350.96 L199.0,350.95 L200.0,350.95 L201.0,350.95 L202.0,350.95 L203.0,350.94 L204.0,350.94 L205.0,350.94 L206.0,350.94 L207.0,350.93 L208.0,350.93 L209.0,350.92 L210.0,350.92 L211.0,350.91 L212.0,350.91 L213.0,350.90 L214.0,350.89 L215.0,350.88 L216.0,350.87 L217.0,350.87 L218.0,350.86 L219.0,350.85 L220.0,350.84 L221.0,350.83 L222.0,350.81 L223.0,350.80 L224.0,350.79 L225.0,350.78 L226.0,350.77 L227.0,350.76 L228.0,350.75 L229.0,350.74 L230.0,350.73 L231.0,350.72 L232.0,350.71 L233.0,350.70 L234.0,350.69 L235.0,350.68 L236.0,350.67 L237.0,350.67 L238.0,350.66 L239.0,350.65 L240.0,350.65 L241.0,350.64 L242.0,350.64 L243.0,350.63 L244.0,350.63 L245.0,350.63 L246.0,350.62 L247.0,350.62 L248.0,350.62 L249.0,350.61 L250.0,350.61 L251.0,350.61 L252.0,350.61 L253.0,350.61 L254.0,350.60 L255.0,350.60 L256.0,350.60 L257.0,350.59 L258.0,350.59 L259.0,350.59 L260.0,350.58 L261.0,350.58 L262.0,350.57 L263.0,350.57 L264.0,350.56 L265.0,350.55 L266.0,350.55 L267.0,350.54 L268.0,350.53 L269.0,350.52 L270.0,350.51 L271.0,350.50 L272.0,350.49 L273.0,350.48 L274.0,350.47 L275.0,350.46 L276.0,350.45 L277.0,350.44 L278.0,350.43 L279.0,350.42 L280.0,350.41 L281.0,350.40 L282.0,350.40 L283.0,350.39 L284.0,350.38 L285.0,350.37 L286.0,350.37 L287.0,350.36 L288.0,350.36 L289.0,350.35 L290.0,350.35 L291.0,350.35 L292.0,350.35 L293.0,350.35 L294.0,350.34 L295.0,350.34 L296.0,350.34 L297.0,350.33 L298.0,350.33 L299.0,350.32 L300.0,350.32 L301.0,350.31 L302.0,350.29 L303.0,350.28 L304.0,350.26 L305.0,350.24 L306.0,350.22 L307.0,350.19 L308.0,350.16 L309.0,350.13 L310.0,350.09 L311.0,350.05 L312.0,350.00 L313.0,349.95 L314.0,349.90 L315.0,349.84 L316.0,349.79 L317.0,349.73 L318.0,349.68 L319.0,349.62 L320.0,349.57 L321.0,349.51 L322.0,349.46 L323.0,349.41 L324.0,349.36 L325.0,349.31 L326.0,349.27 L327.0,349.23 L328.0,349.19 L329.0,349.16 L330.0,349.13 L331.0,349.10 L332.0,349.08 L333.0,349.06 L334.0,349.05 L335.0,349.04 L336.0,349.04 L337.0,349.05 L338.0,349.06 L339.0,349.08 L340.0,349.10 L341.0,349.12 L342.0,349.15 L343.0,349.19 L344.0,349.23 L345.0,349.28 L346.0,349.33 L347.0,349.38 L348.0,349.44 L349.0,349.49 L350.0,349.55 L351.0,349.60 L352.0,349.66 L353.0,349.72 L354.0,349.77 L355.0,349.82 L356.0,349.87 L357.0,349.92 L358.0,349.96 L359.0,350.00 L360.0,350.03 L361.0,350.06 L362.0,350.08 L363.0,350.10 L364.0,350.11 L365.0,350.10 L366.0,350.09 L367.0,350.07 L368.0,350.04 L369.0,350.00 L370.0,349.96 L371.0,349.90 L372.0,349.83 L373.0,349.76 L374.0,349.67 L375.0,349.58 L376.0,349.47 L377.0,349.37 L378.0,349.25 L379.0,349.14 L380.0,349.01 L381.0,348.89 L382.0,348.77 L383.0,348.65 L384.0,348.53 L385.0,348.41 L386.0,348.29 L387.0,348.18 L388.0,348.07 L389.0,347.97 L390.0,347.87 L391.0,347.77 L392.0,347.68 L393.0,347.60 L394.0,347.53 L395.0,347.47 L396.0,347.43 L397.0,347.40 L398.0,347.39 L399.0,347.39 L400.0,347.42 L401.0,347.47 L402.0,347.55 L403.0,347.65 L404.0,347.79 L405.0,347.95 L406.0,348.14 L407.0,348.35 L408.0,348.56 L409.0,348.78 L410.0,348.99 L411.0,349.19 L412.0,349.37 L413.0,349.54 L414.0,349.68 L415.0,349.80 L416.0,349.87 L417.0,349.90 L418.0,349.88 L419.0,349.81 L420.0,349.68 L421.0,349.50 L422.0,349.26 L423.0,348.97 L424.0,348.64 L425.0,348.28 L426.0,347.89 L427.0,347.50 L428.0,347.12 L429.0,346.74 L430.0,346.39 L431.0,346.08 L432.0,345.81 L433.0,345.59 L434.0,345.43 L435.0,345.33 L436.0,345.30 L437.0,345.33 L438.0,345.43 L439.0,345.60 L440.0,345.82 L441.0,346.09 L442.0,346.41 L443.0,346.78 L444.0,347.17 L445.0,347.57 L446.0,347.99 L447.0,348.41 L448.0,348.81 L449.0,349.19 L450.0,349.55 L451.0,349.87 L452.0,350.14 L453.0,350.36 L454.0,350.52 L455.0,350.60 L456.0,350.59 L457.0,350.50 L458.0,350.32 L459.0,350.05 L460.0,349.69 L461.0,349.25 L462.0,348.73 L463.0,348.15 L464.0,347.53 L465.0,346.88 L466.0,346.22 L467.0,345.58 L468.0,344.95 L469.0,344.37 L470.0,343.85 L471.0,343.40 L472.0,343.04 L473.0,342.76 L474.0,342.58 L475.0,342.50 L476.0,342.53 L477.0,342.66 L478.0,342.89 L479.0,343.20 L480.0,343.61 L481.0,344.08 L482.0,344.63 L483.0,345.23 L484.0,345.86 L485.0,346.53 L486.0,347.20 L487.0,347.87 L488.0,348.53 L489.0,349.15 L490.0,349.74 L491.0,350.27 L492.0,350.73 L493.0,351.11 L494.0,351.41 L495.0,351.61 L496.0,351.70 L497.0,351.67 L498.0,351.52 L499.0,351.26 L500.0,350.88 L501.0,350.40 L502.0,349.80 L503.0,349.11 L504.0,348.34 L505.0,347.50 L506.0,346.63 L507.0,345.73 L508.0,344.83 L509.0,343.94 L510.0,343.09 L511.0,342.29 L512.0,341.57 L513.0,340.92 L514.0,340.39 L515.0,339.96 L516.0,339.64 L517.0,339.46 L518.0,339.40 L519.0,339.48 L520.0,339.70 L521.0,340.03 L522.0,340.49 L523.0,341.05 L524.0,341.72 L525.0,342.47 L526.0,343.29 L527.0,344.16 L528.0,345.07 L529.0,345.99 L530.0,346.91 L531.0,347.80 L532.0,348.66 L533.0,349.47 L534.0,350.19 L535.0,350.83 L536.0,351.36 L537.0,351.78 L538.0,352.08 L539.0,352.26 L540.0,352.30 L541.0,352.20 L542.0,351.96 L543.0,351.60 L544.0,351.11 L545.0,350.51 L546.0,349.81 L547.0,349.00 L548.0,348.11 L549.0,347.16 L550.0,346.15 L551.0,345.11 L552.0,344.05 L553.0,342.99 L554.0,341.94 L555.0,340.93 L556.0,339.98 L557.0,339.09 L558.0,338.29 L559.0,337.60 L560.0,337.01 L561.0,336.54 L562.0,336.18 L563.0,335.94 L564.0,335.81 L565.0,335.80 L566.0,335.91 L567.0,336.12 L568.0,336.43 L569.0,336.83 L570.0,337.30 L571.0,337.85 L572.0,338.45 L573.0,339.11 L574.0,339.82 L575.0,340.55 L576.0,341.32 L577.0,342.10 L578.0,342.88 L579.0,343.66 L580.0,344.43 L581.0,345.17 L582.0,345.87 L583.0,346.52 L584.0,347.11 L585.0,347.63 L586.0,348.07 L587.0,348.43 L588.0,348.71 L589.0,348.92 L590.0,349.05 L591.0,349.11 L592.0,349.08 L593.0,348.98 L594.0,348.81 L595.0,348.58 L596.0,348.27 L597.0,347.91 L598.0,347.49 L599.0,347.01 L600.0,346.48 L601.0,345.90 L602.0,345.27 L603.0,344.61 L604.0,343.90 L605.0,343.17 L606.0,342.41 L607.0,341.62 L608.0,340.81 L609.0,339.99 L610.0,339.16 L611.0,338.33 L612.0,337.49 L613.0,336.66 L614.0,335.83 L615.0,335.01 L616.0,334.21 L617.0,333.42 L618.0,332.65 L619.0,331.90 L620.0,331.18 L621.0,330.48 L622.0,329.82 L623.0,329.19 L624.0,328.60 L625.0,328.05 L626.0,327.57 L627.0,327.14 L628.0,326.79 L629.0,326.51 L630.0,326.32 L631.0,326.22 L632.0,326.22 L633.0,326.33 L634.0,326.55 L635.0,326.89 L636.0,327.35 L637.0,327.93 L638.0,328.64 L639.0,329.48 L640.0,330.45 L641.0,331.56 L642.0,332.80 L643.0,334.16 L644.0,335.64 L645.0,337.19 L646.0,338.82 L647.0,340.50 L648.0,342.22 L649.0,343.96 L650.0,345.69 L651.0,347.41 L652.0,349.10 L653.0,350.75 L654.0,352.36 L655.0,353.89 L656.0,355.35 L657.0,356.72 L658.0,358.00 L659.0,359.15 L660.0,360.18 L661.0,361.07 L662.0,361.81 L663.0,362.39 L664.0,362.79 L665.0,362.99 L666.0,363.00 L667.0,362.79 L668.0,362.33 L669.0,361.60 L670.0,360.55 L671.0,359.19 L672.0,357.52 L673.0,355.54 L674.0,353.29 L675.0,350.76 L676.0,347.97 L677.0,344.93 L678.0,341.65 L679.0,338.13 L680.0,334.40 L681.0,330.48 L682.0,326.38 L683.0,322.11 L684.0,317.71 L685.0,313.18 L686.0,308.56 L687.0,303.85 L688.0,299.09 L689.0,294.30 L690.0,289.50 L691.0,284.71 L692.0,279.96 L693.0,275.27 L694.0,270.67 L695.0,266.18 L696.0,261.81 L697.0,257.61 L698.0,253.58 L699.0,249.74 L700.0,246.13 L701.0,242.75 L702.0,239.64 L703.0,236.79 L704.0,234.24 L705.0,232.00 L706.0,230.08 L707.0,228.48 L708.0,227.22 L709.0,226.31 L710.0,225.77 L711.0,225.60 L712.0,225.82 L713.0,226.44 L714.0,227.44 L715.0,228.84 L716.0,230.63 L717.0,232.81 L718.0,235.35 L719.0,238.25 L720.0,241.50 L721.0,245.07 L722.0,248.97 L723.0,253.16 L724.0,257.64 L725.0,262.39 L726.0,267.40 L727.0,272.64 L728.0,278.10 L729.0,283.76 L730.0,289.60 L731.0,295.60 L732.0,301.75 L733.0,308.02 L734.0,314.40 L735.0,320.86 L736.0,327.39 L737.0,333.97 L738.0,340.57 L739.0,347.19 L740.0,353.79 L741.0,360.37 L742.0,366.90 L743.0,373.36 L744.0,379.75 L745.0,386.04 L746.0,392.22 L747.0,398.26 L748.0,404.17 L749.0,409.92 L750.0,415.49 L751.0,420.89 L752.0,426.08 L753.0,431.07 L754.0,435.84 L755.0,440.38 L756.0,444.68 L757.0,448.74 L758.0,452.54 L759.0,456.08 L760.0,459.35 L761.0,462.35 L762.0,465.07 L763.0,467.51 L764.0,469.67 L765.0,471.55 L766.0,473.13 L767.0,474.41 L768.0,475.40 L769.0,476.10 L770.0,476.53 L771.0,476.70 L772.0,476.61 L773.0,476.28 L774.0,475.73 L775.0,474.98 L776.0,474.04 L777.0,472.93 L778.0,471.68 L779.0,470.29 L780.0,468.79 L781.0,467.21 L782.0,465.55 L783.0,463.83 L784.0,462.07 L785.0,460.25 L786.0,458.38 L787.0,456.46 L788.0,454.48 L789.0,452.45 L790.0,450.36 L791.0,448.21 L792.0,446.00 L793.0,443.73 L794.0,441.39 L795.0,439.00 L796.0,436.56 L797.0,434.08 L798.0,431.56 L799.0,429.02 L800.0,426.47 L801.0,423.93 L802.0,421.40 L803.0,418.91 L804.0,416.46 L805.0,414.06 L806.0,411.72 L807.0,409.44 L808.0,407.23 L809.0,405.09 L810.0,403.01 L811.0,400.99 L812.0,399.04 L813.0,397.14 L814.0,395.31 L815.0,393.52 L816.0,391.78 L817.0,390.09 L818.0,388.45 L819.0,386.85 L820.0,385.29 L821.0,383.77 L822.0,382.29 L823.0,380.86 L824.0,379.46 L825.0,378.10 L826.0,376.78 L827.0,375.51 L828.0,374.28 L829.0,373.09 L830.0,371.94 L831.0,370.85 L832.0,369.79 L833.0,368.78 L834.0,367.82 L835.0,366.90 L836.0,366.03 L837.0,365.19 L838.0,364.41 L839.0,363.66 L840.0,362.95 L841.0,362.28 L842.0,361.64 L843.0,361.04 L844.0,360.47 L845.0,359.94 L846.0,359.43 L847.0,358.95 L848.0,358.50 L849.0,358.07 L850.0,357.67 L851.0,357.29 L852.0,356.93 L853.0,356.59 L854.0,356.28 L855.0,355.98 L856.0,355.70 L857.0,355.44 L858.0,355.20 L859.0,354.97 L860.0,354.76 L861.0,354.56 L862.0,354.38 L863.0,354.21 L864.0,354.05 L865.0,353.90 L866.0,353.77 L867.0,353.65 L868.0,353.53 L869.0,353.43 L870.0,353.33 L871.0,353.24 L872.0,353.15 L873.0,353.08 L874.0,353.00 L875.0,352.94 L876.0,352.87 L877.0,352.81 L878.0,352.76 L879.0,352.70 L880.0,352.65 L881.0,352.60 L882.0,352.56 L883.0,352.51 L884.0,352.47 L885.0,352.43 L886.0,352.39 L887.0,352.35 L888.0,352.32 L889.0,352.28 L890.0,352.25 L891.0,352.22 L892.0,352.20 L893.0,352.17 L894.0,352.15 L895.0,352.12 L896.0,352.10 L897.0,352.08 L898.0,352.06 L899.0,352.04 L900.0,352.02 L901.0,352.01 L902.0,351.99 L903.0,351.98 L904.0,351.97 L905.0,351.95 L906.0,351.94 L907.0,351.93 L908.0,351.92 L909.0,351.91 L910.0,351.90 L911.0,351.89 L912.0,351.88 L913.0,351.88 L914.0,351.87 L915.0,351.86 L916.0,351.86 L917.0,351.85 L918.0,351.84 L919.0,351.84 L920.0,351.83 L921.0,351.83 L922.0,351.82 L923.0,351.82 L924.0,351.82 L925.0,351.81 L926.0,351.81 L927.0,351.81 L928.0,351.80 L929.0,351.80 L930.0,351.80 L931.0,351.80 L932.0,351.80 L933.0,351.80 L934.0,351.79 L935.0,351.79 L936.0,351.79 L937.0,351.79 L938.0,351.79 L939.0,351.79 L940.0,351.79 L941.0,351.79 L942.0,351.79 L943.0,351.79 L944.0,351.79 L945.0,351.79 L946.0,351.79 L947.0,351.79 L948.0,351.80 L949.0,351.80 L950.0,351.80 L951.0,351.80 L952.0,351.80 L953.0,351.80 L954.0,351.80 L955.0,351.80 L956.0,351.80 L957.0,351.80 L958.0,351.80 L959.0,351.80 L960.0,351.80 L961.0,351.80 L962.0,351.80 L963.0,351.80 L964.0,351.80 L965.0,351.80 L966.0,351.80 L967.0,351.80 L968.0,351.80 L969.0,351.80 L970.0,351.80 L971.0,351.80 L972.0,351.80 L973.0,351.80 L974.0,351.80 L975.0,351.80 L976.0,351.80 L977.0,351.80 L978.0,351.80 L979.0,351.80 L980.0,351.80 L981.0,351.80 L982.0,351.80 L983.0,351.80 L984.0,351.80 L985.0,351.80 L986.0,351.80 L987.0,351.80 L988.0,351.80 L989.0,351.80 L990.0,351.80 L991.0,351.80 L992.0,351.80 L993.0,351.80 L994.0,351.80 L995.0,351.80 L996.0,351.80 L997.0,351.80 L998.0,351.80 L999.0,351.80 L1000.0,351.80 L1001.0,351.80" fill="none" stroke="#000" stroke-width="4.2" stroke-linejoin="round" stroke-linecap="round"/>
</g>
<g clip-path="url(#cb)">
<path d="M1141.2,641.80 L1142.2,641.84 L1143.2,641.89 L1144.2,641.95 L1145.2,642.03 L1146.2,642.14 L1147.2,642.28 L1148.2,642.43 L1149.2,642.59 L1150.2,642.76 L1151.2,642.92 L1152.2,643.07 L1153.2,643.21 L1154.2,643.34 L1155.2,643.45 L1156.2,643.54 L1157.2,643.60 L1158.2,643.61 L1159.2,643.56 L1160.2,643.45 L1161.2,643.28 L1162.2,643.04 L1163.2,642.73 L1164.2,642.37 L1165.2,641.97 L1166.2,641.55 L1167.2,641.13 L1168.2,640.73 L1169.2,640.37 L1170.2,640.06 L1171.2,639.82 L1172.2,639.64 L1173.2,639.53 L1174.2,639.50 L1175.2,639.52 L1176.2,639.60 L1177.2,639.73 L1178.2,639.89 L1179.2,640.08 L1180.2,640.29 L1181.2,640.52 L1182.2,640.75 L1183.2,640.99 L1184.2,641.22 L1185.2,641.43 L1186.2,641.64 L1187.2,641.81 L1188.2,641.96 L1189.2,642.06 L1190.2,642.11 L1191.2,642.09 L1192.2,641.99 L1193.2,641.81 L1194.2,641.56 L1195.2,641.22 L1196.2,640.81 L1197.2,640.34 L1198.2,639.85 L1199.2,639.35 L1200.2,638.86 L1201.2,638.41 L1202.2,638.01 L1203.2,637.68 L1204.2,637.44 L1205.2,637.28 L1206.2,637.20 L1207.2,637.21 L1208.2,637.30 L1209.2,637.45 L1210.2,637.66 L1211.2,637.92 L1212.2,638.20 L1213.2,638.51 L1214.2,638.83 L1215.2,639.16 L1216.2,639.48 L1217.2,639.77 L1218.2,640.04 L1219.2,640.27 L1220.2,640.45 L1221.2,640.56 L1222.2,640.60 L1223.2,640.56 L1224.2,640.43 L1225.2,640.20 L1226.2,639.90 L1227.2,639.51 L1228.2,639.04 L1229.2,638.52 L1230.2,637.96 L1231.2,637.39 L1232.2,636.82 L1233.2,636.27 L1234.2,635.77 L1235.2,635.33 L1236.2,634.97 L1237.2,634.69 L1238.2,634.50 L1239.2,634.41 L1240.2,634.41 L1241.2,634.51 L1242.2,634.68 L1243.2,634.93 L1244.2,635.24 L1245.2,635.59 L1246.2,635.98 L1247.2,636.38 L1248.2,636.80 L1249.2,637.20 L1250.2,637.58 L1251.2,637.93 L1252.2,638.23 L1253.2,638.46 L1254.2,638.63 L1255.2,638.70 L1256.2,638.67 L1257.2,638.54 L1258.2,638.31 L1259.2,637.97 L1260.2,637.54 L1261.2,637.01 L1262.2,636.41 L1263.2,635.77 L1264.2,635.09 L1265.2,634.41 L1266.2,633.73 L1267.2,633.10 L1268.2,632.52 L1269.2,632.02 L1270.2,631.62 L1271.2,631.32 L1272.2,631.11 L1273.2,631.01 L1274.2,631.01 L1275.2,631.10 L1276.2,631.27 L1277.2,631.50 L1278.2,631.80 L1279.2,632.13 L1280.2,632.49 L1281.2,632.88 L1282.2,633.27 L1283.2,633.66 L1284.2,634.03 L1285.2,634.38 L1286.2,634.68 L1287.2,634.94 L1288.2,635.14 L1289.2,635.27 L1290.2,635.30 L1291.2,635.24 L1292.2,635.08 L1293.2,634.82 L1294.2,634.47 L1295.2,634.01 L1296.2,633.47 L1297.2,632.86 L1298.2,632.20 L1299.2,631.51 L1300.2,630.82 L1301.2,630.13 L1302.2,629.47 L1303.2,628.87 L1304.2,628.34 L1305.2,627.90 L1306.2,627.56 L1307.2,627.31 L1308.2,627.15 L1309.2,627.09 L1310.2,627.12 L1311.2,627.22 L1312.2,627.38 L1313.2,627.60 L1314.2,627.85 L1315.2,628.12 L1316.2,628.42 L1317.2,628.73 L1318.2,629.04 L1319.2,629.35 L1320.2,629.65 L1321.2,629.93 L1322.2,630.18 L1323.2,630.39 L1324.2,630.56 L1325.2,630.67 L1326.2,630.71 L1327.2,630.66 L1328.2,630.54 L1329.2,630.32 L1330.2,630.02 L1331.2,629.64 L1332.2,629.18 L1333.2,628.64 L1334.2,628.04 L1335.2,627.38 L1336.2,626.70 L1337.2,625.99 L1338.2,625.28 L1339.2,624.58 L1340.2,623.91 L1341.2,623.29 L1342.2,622.72 L1343.2,622.24 L1344.2,621.83 L1345.2,621.51 L1346.2,621.26 L1347.2,621.10 L1348.2,621.00 L1349.2,620.97 L1350.2,621.00 L1351.2,621.06 L1352.2,621.15 L1353.2,621.26 L1354.2,621.37 L1355.2,621.48 L1356.2,621.60 L1357.2,621.72 L1358.2,621.84 L1359.2,621.96 L1360.2,622.08 L1361.2,622.19 L1362.2,622.29 L1363.2,622.39 L1364.2,622.46 L1365.2,622.50 L1366.2,622.51 L1367.2,622.48 L1368.2,622.39 L1369.2,622.26 L1370.2,622.07 L1371.2,621.84 L1372.2,621.55 L1373.2,621.22 L1374.2,620.84 L1375.2,620.40 L1376.2,619.92 L1377.2,619.40 L1378.2,618.84 L1379.2,618.26 L1380.2,617.65 L1381.2,617.03 L1382.2,616.40 L1383.2,615.76 L1384.2,615.12 L1385.2,614.50 L1386.2,613.89 L1387.2,613.29 L1388.2,612.73 L1389.2,612.19 L1390.2,611.69 L1391.2,611.23 L1392.2,610.82 L1393.2,610.45 L1394.2,610.14 L1395.2,609.88 L1396.2,609.67 L1397.2,609.52 L1398.2,609.43 L1399.2,609.40 L1400.2,609.43 L1401.2,609.51 L1402.2,609.64 L1403.2,609.82 L1404.2,610.04 L1405.2,610.29 L1406.2,610.56 L1407.2,610.84 L1408.2,611.12 L1409.2,611.39 L1410.2,611.65 L1411.2,611.90 L1412.2,612.12 L1413.2,612.31 L1414.2,612.44 L1415.2,612.51 L1416.2,612.49 L1417.2,612.38 L1418.2,612.16 L1419.2,611.84 L1420.2,611.43 L1421.2,610.91 L1422.2,610.30 L1423.2,609.59 L1424.2,608.78 L1425.2,607.88 L1426.2,606.91 L1427.2,605.87 L1428.2,604.77 L1429.2,603.64 L1430.2,602.48 L1431.2,601.30 L1432.2,600.13 L1433.2,598.96 L1434.2,597.82 L1435.2,596.71 L1436.2,595.64 L1437.2,594.62 L1438.2,593.67 L1439.2,592.78 L1440.2,591.98 L1441.2,591.28 L1442.2,590.67 L1443.2,590.17 L1444.2,589.79 L1445.2,589.53 L1446.2,589.40 L1447.2,589.42 L1448.2,589.58 L1449.2,589.89 L1450.2,590.35 L1451.2,590.94 L1452.2,591.67 L1453.2,592.52 L1454.2,593.44 L1455.2,594.41 L1456.2,595.39 L1457.2,596.35 L1458.2,597.27 L1459.2,598.12 L1460.2,598.89 L1461.2,599.55 L1462.2,600.06 L1463.2,600.39 L1464.2,600.52 L1465.2,600.40 L1466.2,600.02 L1467.2,599.40 L1468.2,598.52 L1469.2,597.41 L1470.2,596.05 L1471.2,594.47 L1472.2,592.65 L1473.2,590.62 L1474.2,588.42 L1475.2,586.07 L1476.2,583.61 L1477.2,581.07 L1478.2,578.48 L1479.2,575.88 L1480.2,573.29 L1481.2,570.75 L1482.2,568.29 L1483.2,565.93 L1484.2,563.71 L1485.2,561.65 L1486.2,559.80 L1487.2,558.16 L1488.2,556.75 L1489.2,555.59 L1490.2,554.68 L1491.2,554.04 L1492.2,553.68 L1493.2,553.61 L1494.2,553.83 L1495.2,554.33 L1496.2,555.09 L1497.2,556.09 L1498.2,557.33 L1499.2,558.78 L1500.2,560.41 L1501.2,562.19 L1502.2,564.08 L1503.2,566.05 L1504.2,568.05 L1505.2,570.05 L1506.2,572.02 L1507.2,573.93 L1508.2,575.74 L1509.2,577.43 L1510.2,578.96 L1511.2,580.31 L1512.2,581.43 L1513.2,582.30 L1514.2,582.87 L1515.2,583.12 L1516.2,583.01 L1517.2,582.52 L1518.2,581.66 L1519.2,580.44 L1520.2,578.85 L1521.2,576.92 L1522.2,574.63 L1523.2,572.01 L1524.2,569.05 L1525.2,565.77 L1526.2,562.20 L1527.2,558.39 L1528.2,554.37 L1529.2,550.17 L1530.2,545.85 L1531.2,541.43 L1532.2,536.97 L1533.2,532.49 L1534.2,528.04 L1535.2,523.65 L1536.2,519.37 L1537.2,515.22 L1538.2,511.26 L1539.2,507.51 L1540.2,504.02 L1541.2,500.82 L1542.2,497.95 L1543.2,495.41 L1544.2,493.21 L1545.2,491.37 L1546.2,489.89 L1547.2,488.78 L1548.2,488.05 L1549.2,487.71 L1550.2,487.77 L1551.2,488.21 L1552.2,488.99 L1553.2,490.10 L1554.2,491.51 L1555.2,493.18 L1556.2,495.10 L1557.2,497.23 L1558.2,499.53 L1559.2,501.97 L1560.2,504.51 L1561.2,507.11 L1562.2,509.74 L1563.2,512.36 L1564.2,514.93 L1565.2,517.42 L1566.2,519.78 L1567.2,521.98 L1568.2,523.98 L1569.2,525.73 L1570.2,527.23 L1571.2,528.45 L1572.2,529.36 L1573.2,529.95 L1574.2,530.20 L1575.2,530.08 L1576.2,529.60 L1577.2,528.76 L1578.2,527.57 L1579.2,526.03 L1580.2,524.14 L1581.2,521.90 L1582.2,519.26 L1583.2,516.21 L1584.2,512.70 L1585.2,508.73 L1586.2,504.36 L1587.2,499.66 L1588.2,494.70 L1589.2,489.58 L1590.2,484.36 L1591.2,479.07 L1592.2,473.72 L1593.2,468.33 L1594.2,462.88 L1595.2,457.40 L1596.2,451.89 L1597.2,446.38 L1598.2,440.91 L1599.2,435.50 L1600.2,430.17 L1601.2,424.91 L1602.2,419.67 L1603.2,414.40 L1604.2,409.04 L1605.2,403.58 L1606.2,397.99 L1607.2,392.30 L1608.2,386.51 L1609.2,380.64 L1610.2,374.73 L1611.2,368.79 L1612.2,362.86 L1613.2,356.97 L1614.2,351.15 L1615.2,345.39 L1616.2,339.71 L1617.2,334.07 L1618.2,328.45 L1619.2,322.81 L1620.2,317.09 L1621.2,311.23 L1622.2,305.20 L1623.2,298.93 L1624.2,292.42 L1625.2,285.64 L1626.2,278.60 L1627.2,271.35 L1628.2,263.92 L1629.2,256.40 L1630.2,248.84 L1631.2,241.32 L1632.2,233.89 L1633.2,226.60 L1634.2,219.45 L1635.2,212.44 L1636.2,205.56 L1637.2,198.77 L1638.2,192.03 L1639.2,185.32 L1640.2,178.61 L1641.2,171.89 L1642.2,165.16 L1643.2,158.43 L1644.2,151.71 L1645.2,145.04 L1646.2,138.43 L1647.2,131.91 L1648.2,125.51 L1649.2,119.26 L1650.2,113.19 L1651.2,107.33 L1652.2,101.73 L1653.2,96.45 L1654.2,91.50 L1655.2,86.85 L1656.2,82.43 L1657.2,78.17 L1658.2,74.01 L1659.2,70.03 L1660.2,66.36 L1661.2,63.12 L1662.2,60.41 L1663.2,58.26 L1664.2,56.65 L1665.2,55.59 L1666.2,55.06 L1667.2,55.06 L1668.2,55.58 L1669.2,56.62 L1670.2,58.17 L1671.2,60.23 L1672.2,62.80 L1673.2,65.86 L1674.2,69.34 L1675.2,73.16 L1676.2,77.24 L1677.2,81.51 L1678.2,86.07 L1679.2,91.09 L1680.2,96.77 L1681.2,103.25 L1682.2,110.43 L1683.2,118.08 L1684.2,126.00 L1685.2,133.99 L1686.2,141.95 L1687.2,149.82 L1688.2,157.53 L1689.2,165.06 L1690.2,172.50 L1691.2,179.97 L1692.2,187.56 L1693.2,195.42 L1694.2,203.71 L1695.2,212.61 L1696.2,222.28 L1697.2,232.80 L1698.2,244.04 L1699.2,255.63 L1700.2,267.19 L1701.2,278.49 L1702.2,289.39 L1703.2,299.92 L1704.2,310.17 L1705.2,320.17 L1706.2,329.94 L1707.2,339.51 L1708.2,348.86 L1709.2,358.01 L1710.2,366.94 L1711.2,375.65 L1712.2,384.14 L1713.2,392.42 L1714.2,400.55 L1715.2,408.56 L1716.2,416.52 L1717.2,424.48 L1718.2,432.47 L1719.2,440.51 L1720.2,448.57 L1721.2,456.62 L1722.2,464.60 L1723.2,472.46 L1724.2,480.16 L1725.2,487.65 L1726.2,494.90 L1727.2,501.89 L1728.2,508.60 L1729.2,515.01 L1730.2,521.12 L1731.2,526.92 L1732.2,532.41 L1733.2,537.60 L1734.2,542.48 L1735.2,547.08 L1736.2,551.41 L1737.2,555.49 L1738.2,559.36 L1739.2,563.05 L1740.2,566.60 L1741.2,570.04 L1742.2,573.41 L1743.2,576.73 L1744.2,580.01 L1745.2,583.26 L1746.2,586.46 L1747.2,589.59 L1748.2,592.65 L1749.2,595.60 L1750.2,598.45 L1751.2,601.16 L1752.2,603.76 L1753.2,606.23 L1754.2,608.57 L1755.2,610.80 L1756.2,612.92 L1757.2,614.94 L1758.2,616.85 L1759.2,618.67 L1760.2,620.40 L1761.2,622.03 L1762.2,623.58 L1763.2,625.04 L1764.2,626.43 L1765.2,627.73 L1766.2,628.97 L1767.2,630.14 L1768.2,631.24 L1769.2,632.29 L1770.2,633.28 L1771.2,634.22 L1772.2,635.11 L1773.2,635.95 L1774.2,636.75 L1775.2,637.51 L1776.2,638.23 L1777.2,638.91 L1778.2,639.55 L1779.2,640.15 L1780.2,640.72 L1781.2,641.25 L1782.2,641.74 L1783.2,642.21 L1784.2,642.64 L1785.2,643.04 L1786.2,643.41 L1787.2,643.76 L1788.2,644.08 L1789.2,644.38 L1790.2,644.65 L1791.2,644.91 L1792.2,645.14 L1793.2,645.36 L1794.2,645.56 L1795.2,645.75 L1796.2,645.92 L1797.2,646.08 L1798.2,646.23 L1799.2,646.36 L1800.2,646.49 L1801.2,646.61 L1802.2,646.72 L1803.2,646.83 L1804.2,646.93 L1805.2,647.02 L1806.2,647.11 L1807.2,647.20 L1808.2,647.28 L1809.2,647.36 L1810.2,647.43 L1811.2,647.50 L1812.2,647.56 L1813.2,647.63 L1814.2,647.68 L1815.2,647.74 L1816.2,647.79 L1817.2,647.83 L1818.2,647.87 L1819.2,647.91 L1820.2,647.95 L1821.2,647.98 L1822.2,648.01 L1823.2,648.04 L1824.2,648.07 L1825.2,648.09 L1826.2,648.11 L1827.2,648.13 L1828.2,648.15 L1829.2,648.17 L1830.2,648.19 L1831.2,648.21 L1832.2,648.23 L1833.2,648.25 L1834.2,648.27 L1835.2,648.29 L1836.2,648.31 L1837.2,648.33 L1838.2,648.35 L1839.2,648.37 L1840.2,648.40 L1841.2,648.42 L1842.2,648.44 L1843.2,648.47 L1844.2,648.49 L1845.2,648.51 L1846.2,648.54 L1847.2,648.56 L1848.2,648.58 L1849.2,648.60 L1850.2,648.62 L1851.2,648.64 L1852.2,648.66 L1853.2,648.67 L1854.2,648.69 L1855.2,648.70 L1856.2,648.71 L1857.2,648.72 L1858.2,648.73 L1859.2,648.74 L1860.2,648.74 L1861.2,648.75 L1862.2,648.75 L1863.2,648.75 L1864.2,648.75 L1865.2,648.75 L1866.2,648.75 L1867.2,648.75 L1868.2,648.75 L1869.2,648.75 L1870.2,648.74 L1871.2,648.74 L1872.2,648.73 L1873.2,648.73 L1874.2,648.73 L1875.2,648.72 L1876.2,648.72 L1877.2,648.71 L1878.2,648.71 L1879.2,648.70 L1880.2,648.70 L1881.2,648.70 L1882.2,648.69 L1883.2,648.69 L1884.2,648.69 L1885.2,648.69 L1886.2,648.68 L1887.2,648.68 L1888.2,648.68 L1889.2,648.68 L1890.2,648.68 L1891.2,648.68 L1892.2,648.68 L1893.2,648.68 L1894.2,648.68 L1895.2,648.68 L1896.2,648.68 L1897.2,648.68 L1898.2,648.69 L1899.2,648.69 L1900.2,648.69 L1901.2,648.69 L1902.2,648.69 L1903.2,648.69 L1904.2,648.69 L1905.2,648.69 L1906.2,648.70 L1907.2,648.70 L1908.2,648.70 L1909.2,648.70 L1910.2,648.70 L1911.2,648.70 L1912.2,648.70 L1913.2,648.70 L1914.2,648.70 L1915.2,648.70 L1916.2,648.70 L1917.2,648.70 L1918.2,648.70 L1919.2,648.70 L1920.2,648.70 L1921.2,648.71 L1922.2,648.71 L1923.2,648.70 L1924.2,648.70 L1925.2,648.70 L1926.2,648.70 L1927.2,648.70 L1928.2,648.70 L1929.2,648.70 L1930.2,648.70 L1931.2,648.70 L1932.2,648.70 L1933.2,648.70 L1934.2,648.70 L1935.2,648.70 L1936.2,648.70 L1937.2,648.70 L1938.2,648.70 L1939.2,648.70 L1940.2,648.70 L1941.2,648.70 L1942.2,648.70 L1943.2,648.70 L1944.2,648.70 L1945.2,648.70 L1946.2,648.70 L1947.2,648.70 L1948.2,648.70 L1949.2,648.70 L1950.2,648.70 L1951.2,648.70 L1952.2,648.70 L1953.2,648.70 L1954.2,648.70 L1955.2,648.70 L1956.2,648.70 L1957.2,648.70 L1958.2,648.70 L1959.2,648.70 L1960.2,648.70 L1961.2,648.70 L1962.2,648.70 L1963.2,648.70 L1964.2,648.70 L1965.2,648.70 L1966.2,648.70 L1967.2,648.70 L1968.2,648.70 L1969.2,648.70 L1970.2,648.70 L1971.2,648.70 L1972.2,648.70 L1973.2,648.70 L1974.2,648.70 L1975.2,648.70 L1976.2,648.70 L1977.2,648.70 L1978.2,648.70 L1979.2,648.70 L1980.2,648.70 L1981.2,648.70 L1982.2,648.70 L1983.2,648.70 L1984.2,648.70 L1985.2,648.70 L1986.2,648.70 L1987.2,648.70 L1988.2,648.70 L1989.2,648.70 L1990.2,648.70 L1991.2,648.70 L1992.2,648.70 L1993.2,648.70 L1994.2,648.70 L1995.2,648.70 L1996.2,648.70 L1997.2,648.70 L1998.2,648.70 L1999.2,648.70 L2000.2,648.70 L2001.2,648.70 L2002.2,648.70 L2003.2,648.70 L2004.2,648.70 L2005.2,648.70 L2006.2,648.70 L2007.2,648.70 L2008.2,648.70 L2009.2,648.70 L2010.2,648.70 L2011.2,648.70 L2012.2,648.70 L2013.2,648.70 L2014.2,648.70 L2015.2,648.70 L2016.2,648.70 L2017.2,648.70 L2018.2,648.70 L2019.2,648.70 L2020.2,648.70 L2021.2,648.70 L2022.2,648.70 L2023.2,648.70 L2024.2,648.70 L2025.2,648.70 L2026.2,648.70 L2027.2,648.70 L2028.2,648.70 L2029.2,648.70 L2030.2,648.70 L2031.2,648.70 L2032.2,648.70 L2033.2,648.70 L2034.2,648.70 L2035.2,648.70 L2036.2,648.70 L2037.2,648.70 L2038.2,648.70 L2039.2,648.70 L2040.2,648.70 L2041.2,648.70 L2042.2,648.70 L2043.2,648.70 L2044.2,648.70 L2045.2,648.70 L2046.2,648.70 L2047.2,648.70 L2048.2,648.70 L2049.2,648.70 L2050.2,648.70 L2051.2,648.70 L2052.2,648.70 L2053.2,648.70 L2054.2,648.70 L2055.2,648.70 L2056.2,648.70 L2057.2,648.70 L2058.2,648.70 L2059.2,648.70 L2060.2,648.70" fill="none" stroke="#ff0000" stroke-width="4.2" stroke-linejoin="round" stroke-linecap="round"/>
<path d="M1141.2,634.40 L1142.2,634.37 L1143.2,634.34 L1144.2,634.30 L1145.2,634.25 L1146.2,634.19 L1147.2,634.12 L1148.2,634.03 L1149.2,633.94 L1150.2,633.84 L1151.2,633.75 L1152.2,633.66 L1153.2,633.60 L1154.2,633.54 L1155.2,633.50 L1156.2,633.46 L1157.2,633.43 L1158.2,633.39 L1159.2,633.35 L1160.2,633.31 L1161.2,633.25 L1162.2,633.18 L1163.2,633.10 L1164.2,632.99 L1165.2,632.87 L1166.2,632.74 L1167.2,632.61 L1168.2,632.48 L1169.2,632.36 L1170.2,632.26 L1171.2,632.17 L1172.2,632.10 L1173.2,632.05 L1174.2,632.02 L1175.2,632.00 L1176.2,632.00 L1177.2,632.01 L1178.2,632.03 L1179.2,632.05 L1180.2,632.08 L1181.2,632.11 L1182.2,632.14 L1183.2,632.17 L1184.2,632.20 L1185.2,632.23 L1186.2,632.27 L1187.2,632.30 L1188.2,632.32 L1189.2,632.32 L1190.2,632.29 L1191.2,632.23 L1192.2,632.14 L1193.2,632.02 L1194.2,631.87 L1195.2,631.68 L1196.2,631.46 L1197.2,631.21 L1198.2,630.94 L1199.2,630.65 L1200.2,630.36 L1201.2,630.07 L1202.2,629.79 L1203.2,629.54 L1204.2,629.31 L1205.2,629.12 L1206.2,628.96 L1207.2,628.84 L1208.2,628.75 L1209.2,628.71 L1210.2,628.69 L1211.2,628.72 L1212.2,628.77 L1213.2,628.83 L1214.2,628.91 L1215.2,629.00 L1216.2,629.08 L1217.2,629.17 L1218.2,629.26 L1219.2,629.35 L1220.2,629.42 L1221.2,629.48 L1222.2,629.51 L1223.2,629.50 L1224.2,629.45 L1225.2,629.34 L1226.2,629.19 L1227.2,628.98 L1228.2,628.74 L1229.2,628.44 L1230.2,628.11 L1231.2,627.75 L1232.2,627.39 L1233.2,627.03 L1234.2,626.69 L1235.2,626.39 L1236.2,626.13 L1237.2,625.92 L1238.2,625.76 L1239.2,625.65 L1240.2,625.60 L1241.2,625.61 L1242.2,625.66 L1243.2,625.76 L1244.2,625.88 L1245.2,626.03 L1246.2,626.19 L1247.2,626.35 L1248.2,626.52 L1249.2,626.68 L1250.2,626.84 L1251.2,626.97 L1252.2,627.07 L1253.2,627.11 L1254.2,627.09 L1255.2,627.00 L1256.2,626.84 L1257.2,626.60 L1258.2,626.29 L1259.2,625.92 L1260.2,625.48 L1261.2,624.99 L1262.2,624.46 L1263.2,623.93 L1264.2,623.41 L1265.2,622.93 L1266.2,622.50 L1267.2,622.14 L1268.2,621.85 L1269.2,621.63 L1270.2,621.47 L1271.2,621.40 L1272.2,621.39 L1273.2,621.45 L1274.2,621.56 L1275.2,621.70 L1276.2,621.87 L1277.2,622.05 L1278.2,622.24 L1279.2,622.42 L1280.2,622.61 L1281.2,622.80 L1282.2,622.97 L1283.2,623.12 L1284.2,623.24 L1285.2,623.31 L1286.2,623.31 L1287.2,623.24 L1288.2,623.09 L1289.2,622.86 L1290.2,622.56 L1291.2,622.18 L1292.2,621.73 L1293.2,621.22 L1294.2,620.66 L1295.2,620.08 L1296.2,619.51 L1297.2,618.97 L1298.2,618.48 L1299.2,618.06 L1300.2,617.71 L1301.2,617.44 L1302.2,617.24 L1303.2,617.12 L1304.2,617.08 L1305.2,617.10 L1306.2,617.18 L1307.2,617.29 L1308.2,617.43 L1309.2,617.59 L1310.2,617.74 L1311.2,617.90 L1312.2,618.06 L1313.2,618.21 L1314.2,618.37 L1315.2,618.51 L1316.2,618.62 L1317.2,618.70 L1318.2,618.72 L1319.2,618.68 L1320.2,618.56 L1321.2,618.36 L1322.2,618.09 L1323.2,617.74 L1324.2,617.32 L1325.2,616.83 L1326.2,616.29 L1327.2,615.71 L1328.2,615.14 L1329.2,614.58 L1330.2,614.07 L1331.2,613.62 L1332.2,613.25 L1333.2,612.95 L1334.2,612.72 L1335.2,612.56 L1336.2,612.48 L1337.2,612.47 L1338.2,612.51 L1339.2,612.60 L1340.2,612.70 L1341.2,612.82 L1342.2,612.94 L1343.2,613.05 L1344.2,613.17 L1345.2,613.29 L1346.2,613.40 L1347.2,613.52 L1348.2,613.63 L1349.2,613.70 L1350.2,613.73 L1351.2,613.71 L1352.2,613.61 L1353.2,613.43 L1354.2,613.18 L1355.2,612.86 L1356.2,612.46 L1357.2,611.99 L1358.2,611.45 L1359.2,610.85 L1360.2,610.22 L1361.2,609.58 L1362.2,608.96 L1363.2,608.38 L1364.2,607.87 L1365.2,607.42 L1366.2,607.05 L1367.2,606.75 L1368.2,606.52 L1369.2,606.36 L1370.2,606.27 L1371.2,606.24 L1372.2,606.26 L1373.2,606.32 L1374.2,606.39 L1375.2,606.48 L1376.2,606.56 L1377.2,606.63 L1378.2,606.69 L1379.2,606.76 L1380.2,606.83 L1381.2,606.91 L1382.2,606.99 L1383.2,607.07 L1384.2,607.13 L1385.2,607.15 L1386.2,607.14 L1387.2,607.06 L1388.2,606.92 L1389.2,606.71 L1390.2,606.43 L1391.2,606.09 L1392.2,605.68 L1393.2,605.20 L1394.2,604.66 L1395.2,604.06 L1396.2,603.41 L1397.2,602.74 L1398.2,602.05 L1399.2,601.38 L1400.2,600.73 L1401.2,600.12 L1402.2,599.58 L1403.2,599.10 L1404.2,598.69 L1405.2,598.35 L1406.2,598.09 L1407.2,597.90 L1408.2,597.81 L1409.2,597.80 L1410.2,597.86 L1411.2,597.97 L1412.2,598.10 L1413.2,598.23 L1414.2,598.36 L1415.2,598.47 L1416.2,598.55 L1417.2,598.60 L1418.2,598.59 L1419.2,598.52 L1420.2,598.41 L1421.2,598.25 L1422.2,598.05 L1423.2,597.82 L1424.2,597.55 L1425.2,597.25 L1426.2,596.93 L1427.2,596.60 L1428.2,596.24 L1429.2,595.88 L1430.2,595.52 L1431.2,595.15 L1432.2,594.79 L1433.2,594.43 L1434.2,594.08 L1435.2,593.75 L1436.2,593.43 L1437.2,593.11 L1438.2,592.81 L1439.2,592.52 L1440.2,592.23 L1441.2,591.95 L1442.2,591.68 L1443.2,591.41 L1444.2,591.15 L1445.2,590.90 L1446.2,590.65 L1447.2,590.41 L1448.2,590.17 L1449.2,589.94 L1450.2,589.70 L1451.2,589.47 L1452.2,589.25 L1453.2,589.02 L1454.2,588.80 L1455.2,588.59 L1456.2,588.37 L1457.2,588.15 L1458.2,587.94 L1459.2,587.73 L1460.2,587.52 L1461.2,587.31 L1462.2,587.11 L1463.2,586.90 L1464.2,586.69 L1465.2,586.49 L1466.2,586.28 L1467.2,586.08 L1468.2,585.87 L1469.2,585.67 L1470.2,585.46 L1471.2,585.25 L1472.2,585.04 L1473.2,584.82 L1474.2,584.60 L1475.2,584.36 L1476.2,584.11 L1477.2,583.85 L1478.2,583.57 L1479.2,583.26 L1480.2,582.94 L1481.2,582.59 L1482.2,582.22 L1483.2,581.81 L1484.2,581.37 L1485.2,580.90 L1486.2,580.40 L1487.2,579.85 L1488.2,579.27 L1489.2,578.65 L1490.2,578.00 L1491.2,577.32 L1492.2,576.61 L1493.2,575.88 L1494.2,575.11 L1495.2,574.32 L1496.2,573.51 L1497.2,572.68 L1498.2,571.83 L1499.2,570.96 L1500.2,570.09 L1501.2,569.24 L1502.2,568.41 L1503.2,567.61 L1504.2,566.87 L1505.2,566.20 L1506.2,565.61 L1507.2,565.11 L1508.2,564.71 L1509.2,564.44 L1510.2,564.31 L1511.2,564.31 L1512.2,564.44 L1513.2,564.67 L1514.2,564.97 L1515.2,565.32 L1516.2,565.70 L1517.2,566.09 L1518.2,566.48 L1519.2,566.86 L1520.2,567.20 L1521.2,567.48 L1522.2,567.69 L1523.2,567.80 L1524.2,567.78 L1525.2,567.63 L1526.2,567.33 L1527.2,566.90 L1528.2,566.34 L1529.2,565.65 L1530.2,564.84 L1531.2,563.89 L1532.2,562.83 L1533.2,561.66 L1534.2,560.38 L1535.2,559.02 L1536.2,557.58 L1537.2,556.09 L1538.2,554.56 L1539.2,553.01 L1540.2,551.44 L1541.2,549.88 L1542.2,548.34 L1543.2,546.82 L1544.2,545.35 L1545.2,543.93 L1546.2,542.58 L1547.2,541.32 L1548.2,540.14 L1549.2,539.08 L1550.2,538.13 L1551.2,537.31 L1552.2,536.62 L1553.2,536.08 L1554.2,535.68 L1555.2,535.45 L1556.2,535.40 L1557.2,535.52 L1558.2,535.81 L1559.2,536.29 L1560.2,536.93 L1561.2,537.74 L1562.2,538.70 L1563.2,539.77 L1564.2,540.92 L1565.2,542.11 L1566.2,543.30 L1567.2,544.47 L1568.2,545.57 L1569.2,546.58 L1570.2,547.47 L1571.2,548.21 L1572.2,548.78 L1573.2,549.15 L1574.2,549.30 L1575.2,549.21 L1576.2,548.88 L1577.2,548.32 L1578.2,547.53 L1579.2,546.51 L1580.2,545.28 L1581.2,543.84 L1582.2,542.20 L1583.2,540.36 L1584.2,538.34 L1585.2,536.15 L1586.2,533.82 L1587.2,531.36 L1588.2,528.80 L1589.2,526.16 L1590.2,523.47 L1591.2,520.73 L1592.2,517.99 L1593.2,515.25 L1594.2,512.54 L1595.2,509.88 L1596.2,507.30 L1597.2,504.81 L1598.2,502.43 L1599.2,500.20 L1600.2,498.12 L1601.2,496.23 L1602.2,494.54 L1603.2,493.04 L1604.2,491.75 L1605.2,490.67 L1606.2,489.81 L1607.2,489.17 L1608.2,488.77 L1609.2,488.60 L1610.2,488.67 L1611.2,488.97 L1612.2,489.48 L1613.2,490.19 L1614.2,491.07 L1615.2,492.11 L1616.2,493.30 L1617.2,494.60 L1618.2,495.99 L1619.2,497.44 L1620.2,498.93 L1621.2,500.42 L1622.2,501.89 L1623.2,503.33 L1624.2,504.72 L1625.2,506.03 L1626.2,507.26 L1627.2,508.38 L1628.2,509.35 L1629.2,510.14 L1630.2,510.69 L1631.2,510.97 L1632.2,510.92 L1633.2,510.52 L1634.2,509.76 L1635.2,508.69 L1636.2,507.33 L1637.2,505.70 L1638.2,503.84 L1639.2,501.78 L1640.2,499.54 L1641.2,497.15 L1642.2,494.62 L1643.2,491.98 L1644.2,489.23 L1645.2,486.41 L1646.2,483.52 L1647.2,480.57 L1648.2,477.60 L1649.2,474.61 L1650.2,471.60 L1651.2,468.58 L1652.2,465.55 L1653.2,462.50 L1654.2,459.45 L1655.2,456.39 L1656.2,453.32 L1657.2,450.29 L1658.2,447.30 L1659.2,444.40 L1660.2,441.61 L1661.2,438.96 L1662.2,436.45 L1663.2,434.08 L1664.2,431.82 L1665.2,429.66 L1666.2,427.58 L1667.2,425.56 L1668.2,423.59 L1669.2,421.64 L1670.2,419.71 L1671.2,417.80 L1672.2,415.89 L1673.2,413.98 L1674.2,412.08 L1675.2,410.16 L1676.2,408.23 L1677.2,406.27 L1678.2,404.30 L1679.2,402.29 L1680.2,400.24 L1681.2,398.15 L1682.2,396.00 L1683.2,393.79 L1684.2,391.52 L1685.2,389.16 L1686.2,386.73 L1687.2,384.21 L1688.2,381.59 L1689.2,378.87 L1690.2,376.03 L1691.2,373.07 L1692.2,369.98 L1693.2,366.74 L1694.2,363.34 L1695.2,359.76 L1696.2,355.99 L1697.2,352.03 L1698.2,347.85 L1699.2,343.44 L1700.2,338.80 L1701.2,333.91 L1702.2,328.77 L1703.2,323.36 L1704.2,317.69 L1705.2,311.74 L1706.2,305.51 L1707.2,299.00 L1708.2,292.22 L1709.2,285.21 L1710.2,278.03 L1711.2,270.76 L1712.2,263.51 L1713.2,256.38 L1714.2,249.50 L1715.2,242.98 L1716.2,236.93 L1717.2,231.44 L1718.2,226.58 L1719.2,222.26 L1720.2,218.36 L1721.2,214.70 L1722.2,211.13 L1723.2,207.65 L1724.2,204.31 L1725.2,201.19 L1726.2,198.35 L1727.2,195.85 L1728.2,193.73 L1729.2,192.04 L1730.2,190.83 L1731.2,190.15 L1732.2,190.03 L1733.2,190.49 L1734.2,191.48 L1735.2,192.95 L1736.2,194.85 L1737.2,197.13 L1738.2,199.72 L1739.2,202.60 L1740.2,205.73 L1741.2,209.10 L1742.2,212.72 L1743.2,216.57 L1744.2,220.66 L1745.2,225.05 L1746.2,229.78 L1747.2,234.91 L1748.2,240.45 L1749.2,246.38 L1750.2,252.65 L1751.2,259.24 L1752.2,266.11 L1753.2,273.22 L1754.2,280.53 L1755.2,288.00 L1756.2,295.58 L1757.2,303.21 L1758.2,310.87 L1759.2,318.52 L1760.2,326.11 L1761.2,333.65 L1762.2,341.13 L1763.2,348.54 L1764.2,355.90 L1765.2,363.24 L1766.2,370.56 L1767.2,377.91 L1768.2,385.30 L1769.2,392.74 L1770.2,400.25 L1771.2,407.82 L1772.2,415.43 L1773.2,423.06 L1774.2,430.68 L1775.2,438.25 L1776.2,445.74 L1777.2,453.12 L1778.2,460.37 L1779.2,467.48 L1780.2,474.43 L1781.2,481.21 L1782.2,487.81 L1783.2,494.22 L1784.2,500.42 L1785.2,506.39 L1786.2,512.14 L1787.2,517.65 L1788.2,522.92 L1789.2,527.96 L1790.2,532.79 L1791.2,537.42 L1792.2,541.88 L1793.2,546.20 L1794.2,550.39 L1795.2,554.47 L1796.2,558.44 L1797.2,562.32 L1798.2,566.08 L1799.2,569.74 L1800.2,573.27 L1801.2,576.67 L1802.2,579.94 L1803.2,583.08 L1804.2,586.08 L1805.2,588.96 L1806.2,591.72 L1807.2,594.37 L1808.2,596.91 L1809.2,599.36 L1810.2,601.73 L1811.2,604.00 L1812.2,606.20 L1813.2,608.32 L1814.2,610.37 L1815.2,612.35 L1816.2,614.25 L1817.2,616.09 L1818.2,617.85 L1819.2,619.55 L1820.2,621.18 L1821.2,622.74 L1822.2,624.24 L1823.2,625.67 L1824.2,627.03 L1825.2,628.34 L1826.2,629.58 L1827.2,630.76 L1828.2,631.88 L1829.2,632.94 L1830.2,633.94 L1831.2,634.89 L1832.2,635.79 L1833.2,636.63 L1834.2,637.42 L1835.2,638.16 L1836.2,638.85 L1837.2,639.50 L1838.2,640.10 L1839.2,640.65 L1840.2,641.17 L1841.2,641.65 L1842.2,642.09 L1843.2,642.49 L1844.2,642.87 L1845.2,643.21 L1846.2,643.53 L1847.2,643.83 L1848.2,644.10 L1849.2,644.36 L1850.2,644.60 L1851.2,644.83 L1852.2,645.04 L1853.2,645.24 L1854.2,645.43 L1855.2,645.62 L1856.2,645.79 L1857.2,645.95 L1858.2,646.11 L1859.2,646.26 L1860.2,646.40 L1861.2,646.53 L1862.2,646.65 L1863.2,646.77 L1864.2,646.88 L1865.2,646.98 L1866.2,647.08 L1867.2,647.17 L1868.2,647.25 L1869.2,647.33 L1870.2,647.40 L1871.2,647.47 L1872.2,647.53 L1873.2,647.58 L1874.2,647.63 L1875.2,647.68 L1876.2,647.73 L1877.2,647.77 L1878.2,647.81 L1879.2,647.84 L1880.2,647.88 L1881.2,647.91 L1882.2,647.94 L1883.2,647.97 L1884.2,648.00 L1885.2,648.03 L1886.2,648.06 L1887.2,648.09 L1888.2,648.12 L1889.2,648.15 L1890.2,648.17 L1891.2,648.20 L1892.2,648.22 L1893.2,648.25 L1894.2,648.27 L1895.2,648.29 L1896.2,648.32 L1897.2,648.34 L1898.2,648.36 L1899.2,648.38 L1900.2,648.40 L1901.2,648.42 L1902.2,648.45 L1903.2,648.47 L1904.2,648.48 L1905.2,648.50 L1906.2,648.52 L1907.2,648.54 L1908.2,648.56 L1909.2,648.57 L1910.2,648.59 L1911.2,648.60 L1912.2,648.62 L1913.2,648.63 L1914.2,648.64 L1915.2,648.66 L1916.2,648.67 L1917.2,648.68 L1918.2,648.69 L1919.2,648.69 L1920.2,648.70 L1921.2,648.71 L1922.2,648.71 L1923.2,648.72 L1924.2,648.72 L1925.2,648.72 L1926.2,648.72 L1927.2,648.72 L1928.2,648.72 L1929.2,648.72 L1930.2,648.72 L1931.2,648.72 L1932.2,648.72 L1933.2,648.72 L1934.2,648.71 L1935.2,648.71 L1936.2,648.71 L1937.2,648.71 L1938.2,648.70 L1939.2,648.70 L1940.2,648.70 L1941.2,648.70 L1942.2,648.70 L1943.2,648.69 L1944.2,648.69 L1945.2,648.69 L1946.2,648.69 L1947.2,648.69 L1948.2,648.69 L1949.2,648.69 L1950.2,648.69 L1951.2,648.69 L1952.2,648.69 L1953.2,648.69 L1954.2,648.69 L1955.2,648.69 L1956.2,648.69 L1957.2,648.69 L1958.2,648.69 L1959.2,648.69 L1960.2,648.69 L1961.2,648.69 L1962.2,648.69 L1963.2,648.70 L1964.2,648.70 L1965.2,648.70 L1966.2,648.70 L1967.2,648.70 L1968.2,648.70 L1969.2,648.70 L1970.2,648.70 L1971.2,648.70 L1972.2,648.70 L1973.2,648.70 L1974.2,648.70 L1975.2,648.70 L1976.2,648.70 L1977.2,648.70 L1978.2,648.70 L1979.2,648.70 L1980.2,648.70 L1981.2,648.70 L1982.2,648.70 L1983.2,648.70 L1984.2,648.70 L1985.2,648.70 L1986.2,648.70 L1987.2,648.70 L1988.2,648.70 L1989.2,648.70 L1990.2,648.70 L1991.2,648.70 L1992.2,648.70 L1993.2,648.70 L1994.2,648.70 L1995.2,648.70 L1996.2,648.70 L1997.2,648.70 L1998.2,648.70 L1999.2,648.70 L2000.2,648.70 L2001.2,648.70 L2002.2,648.70 L2003.2,648.70 L2004.2,648.70 L2005.2,648.70 L2006.2,648.70 L2007.2,648.70 L2008.2,648.70 L2009.2,648.70 L2010.2,648.70 L2011.2,648.70 L2012.2,648.70 L2013.2,648.70 L2014.2,648.70 L2015.2,648.70 L2016.2,648.70 L2017.2,648.70 L2018.2,648.70 L2019.2,648.70 L2020.2,648.70 L2021.2,648.70 L2022.2,648.70 L2023.2,648.70 L2024.2,648.70 L2025.2,648.70 L2026.2,648.70 L2027.2,648.70 L2028.2,648.70 L2029.2,648.70 L2030.2,648.70 L2031.2,648.70 L2032.2,648.70 L2033.2,648.70 L2034.2,648.70 L2035.2,648.70 L2036.2,648.70 L2037.2,648.70 L2038.2,648.70 L2039.2,648.70 L2040.2,648.70 L2041.2,648.70 L2042.2,648.70 L2043.2,648.70 L2044.2,648.70 L2045.2,648.70 L2046.2,648.70 L2047.2,648.70 L2048.2,648.70 L2049.2,648.70 L2050.2,648.70 L2051.2,648.70 L2052.2,648.70 L2053.2,648.70 L2054.2,648.70 L2055.2,648.70 L2056.2,648.70 L2057.2,648.70 L2058.2,648.70 L2059.2,648.70 L2060.2,648.70" fill="none" stroke="#0000ff" stroke-width="4.2" stroke-linejoin="round" stroke-linecap="round"/>
<path d="M1141.2,628.70 L1142.2,628.61 L1143.2,628.53 L1144.2,628.44 L1145.2,628.36 L1146.2,628.27 L1147.2,628.19 L1148.2,628.10 L1149.2,628.02 L1150.2,627.93 L1151.2,627.84 L1152.2,627.76 L1153.2,627.67 L1154.2,627.59 L1155.2,627.50 L1156.2,627.41 L1157.2,627.33 L1158.2,627.24 L1159.2,627.15 L1160.2,627.07 L1161.2,626.98 L1162.2,626.89 L1163.2,626.80 L1164.2,626.72 L1165.2,626.63 L1166.2,626.54 L1167.2,626.45 L1168.2,626.36 L1169.2,626.27 L1170.2,626.18 L1171.2,626.09 L1172.2,626.00 L1173.2,625.91 L1174.2,625.82 L1175.2,625.73 L1176.2,625.64 L1177.2,625.55 L1178.2,625.45 L1179.2,625.36 L1180.2,625.27 L1181.2,625.18 L1182.2,625.08 L1183.2,624.99 L1184.2,624.90 L1185.2,624.80 L1186.2,624.71 L1187.2,624.62 L1188.2,624.52 L1189.2,624.43 L1190.2,624.33 L1191.2,624.24 L1192.2,624.14 L1193.2,624.05 L1194.2,623.95 L1195.2,623.86 L1196.2,623.76 L1197.2,623.67 L1198.2,623.57 L1199.2,623.48 L1200.2,623.38 L1201.2,623.28 L1202.2,623.19 L1203.2,623.09 L1204.2,623.00 L1205.2,622.90 L1206.2,622.80 L1207.2,622.71 L1208.2,622.61 L1209.2,622.51 L1210.2,622.42 L1211.2,622.32 L1212.2,622.22 L1213.2,622.12 L1214.2,622.02 L1215.2,621.93 L1216.2,621.83 L1217.2,621.73 L1218.2,621.63 L1219.2,621.53 L1220.2,621.43 L1221.2,621.34 L1222.2,621.24 L1223.2,621.14 L1224.2,621.04 L1225.2,620.94 L1226.2,620.84 L1227.2,620.74 L1228.2,620.64 L1229.2,620.53 L1230.2,620.43 L1231.2,620.33 L1232.2,620.23 L1233.2,620.13 L1234.2,620.03 L1235.2,619.92 L1236.2,619.82 L1237.2,619.72 L1238.2,619.62 L1239.2,619.51 L1240.2,619.41 L1241.2,619.31 L1242.2,619.20 L1243.2,619.10 L1244.2,618.99 L1245.2,618.89 L1246.2,618.79 L1247.2,618.68 L1248.2,618.58 L1249.2,618.47 L1250.2,618.37 L1251.2,618.26 L1252.2,618.16 L1253.2,618.05 L1254.2,617.94 L1255.2,617.84 L1256.2,617.73 L1257.2,617.63 L1258.2,617.52 L1259.2,617.42 L1260.2,617.31 L1261.2,617.20 L1262.2,617.10 L1263.2,616.99 L1264.2,616.88 L1265.2,616.78 L1266.2,616.67 L1267.2,616.57 L1268.2,616.46 L1269.2,616.35 L1270.2,616.25 L1271.2,616.14 L1272.2,616.03 L1273.2,615.93 L1274.2,615.82 L1275.2,615.72 L1276.2,615.61 L1277.2,615.50 L1278.2,615.40 L1279.2,615.29 L1280.2,615.18 L1281.2,615.08 L1282.2,614.97 L1283.2,614.86 L1284.2,614.76 L1285.2,614.65 L1286.2,614.54 L1287.2,614.44 L1288.2,614.33 L1289.2,614.22 L1290.2,614.11 L1291.2,614.01 L1292.2,613.90 L1293.2,613.79 L1294.2,613.69 L1295.2,613.58 L1296.2,613.47 L1297.2,613.36 L1298.2,613.26 L1299.2,613.15 L1300.2,613.04 L1301.2,612.93 L1302.2,612.82 L1303.2,612.72 L1304.2,612.61 L1305.2,612.50 L1306.2,612.39 L1307.2,612.28 L1308.2,612.17 L1309.2,612.06 L1310.2,611.94 L1311.2,611.83 L1312.2,611.72 L1313.2,611.61 L1314.2,611.49 L1315.2,611.38 L1316.2,611.26 L1317.2,611.15 L1318.2,611.03 L1319.2,610.91 L1320.2,610.79 L1321.2,610.67 L1322.2,610.55 L1323.2,610.43 L1324.2,610.31 L1325.2,610.19 L1326.2,610.06 L1327.2,609.93 L1328.2,609.80 L1329.2,609.66 L1330.2,609.51 L1331.2,609.34 L1332.2,609.16 L1333.2,608.96 L1334.2,608.75 L1335.2,608.51 L1336.2,608.25 L1337.2,607.96 L1338.2,607.65 L1339.2,607.31 L1340.2,606.95 L1341.2,606.59 L1342.2,606.23 L1343.2,605.88 L1344.2,605.54 L1345.2,605.22 L1346.2,604.93 L1347.2,604.68 L1348.2,604.47 L1349.2,604.29 L1350.2,604.15 L1351.2,604.03 L1352.2,603.95 L1353.2,603.88 L1354.2,603.84 L1355.2,603.81 L1356.2,603.80 L1357.2,603.79 L1358.2,603.80 L1359.2,603.80 L1360.2,603.80 L1361.2,603.79 L1362.2,603.77 L1363.2,603.73 L1364.2,603.67 L1365.2,603.59 L1366.2,603.47 L1367.2,603.32 L1368.2,603.13 L1369.2,602.92 L1370.2,602.67 L1371.2,602.40 L1372.2,602.12 L1373.2,601.81 L1374.2,601.49 L1375.2,601.17 L1376.2,600.83 L1377.2,600.50 L1378.2,600.17 L1379.2,599.86 L1380.2,599.55 L1381.2,599.27 L1382.2,599.02 L1383.2,598.80 L1384.2,598.61 L1385.2,598.47 L1386.2,598.35 L1387.2,598.26 L1388.2,598.20 L1389.2,598.15 L1390.2,598.11 L1391.2,598.07 L1392.2,598.03 L1393.2,597.99 L1394.2,597.93 L1395.2,597.85 L1396.2,597.76 L1397.2,597.64 L1398.2,597.49 L1399.2,597.31 L1400.2,597.10 L1401.2,596.84 L1402.2,596.55 L1403.2,596.23 L1404.2,595.89 L1405.2,595.54 L1406.2,595.20 L1407.2,594.87 L1408.2,594.56 L1409.2,594.28 L1410.2,594.03 L1411.2,593.82 L1412.2,593.64 L1413.2,593.49 L1414.2,593.36 L1415.2,593.26 L1416.2,593.19 L1417.2,593.15 L1418.2,593.12 L1419.2,593.11 L1420.2,593.10 L1421.2,593.10 L1422.2,593.09 L1423.2,593.07 L1424.2,593.04 L1425.2,592.99 L1426.2,592.90 L1427.2,592.79 L1428.2,592.64 L1429.2,592.44 L1430.2,592.20 L1431.2,591.92 L1432.2,591.60 L1433.2,591.25 L1434.2,590.88 L1435.2,590.48 L1436.2,590.06 L1437.2,589.62 L1438.2,589.18 L1439.2,588.73 L1440.2,588.30 L1441.2,587.90 L1442.2,587.52 L1443.2,587.18 L1444.2,586.89 L1445.2,586.65 L1446.2,586.46 L1447.2,586.31 L1448.2,586.18 L1449.2,586.08 L1450.2,586.00 L1451.2,585.92 L1452.2,585.85 L1453.2,585.77 L1454.2,585.70 L1455.2,585.64 L1456.2,585.58 L1457.2,585.53 L1458.2,585.49 L1459.2,585.47 L1460.2,585.44 L1461.2,585.41 L1462.2,585.36 L1463.2,585.29 L1464.2,585.19 L1465.2,585.04 L1466.2,584.85 L1467.2,584.60 L1468.2,584.30 L1469.2,583.94 L1470.2,583.51 L1471.2,583.01 L1472.2,582.47 L1473.2,581.90 L1474.2,581.32 L1475.2,580.74 L1476.2,580.19 L1477.2,579.67 L1478.2,579.18 L1479.2,578.73 L1480.2,578.32 L1481.2,577.96 L1482.2,577.63 L1483.2,577.36 L1484.2,577.13 L1485.2,576.95 L1486.2,576.82 L1487.2,576.72 L1488.2,576.66 L1489.2,576.62 L1490.2,576.60 L1491.2,576.60 L1492.2,576.60 L1493.2,576.60 L1494.2,576.60 L1495.2,576.58 L1496.2,576.54 L1497.2,576.48 L1498.2,576.38 L1499.2,576.25 L1500.2,576.07 L1501.2,575.85 L1502.2,575.58 L1503.2,575.27 L1504.2,574.91 L1505.2,574.52 L1506.2,574.10 L1507.2,573.65 L1508.2,573.20 L1509.2,572.74 L1510.2,572.30 L1511.2,571.88 L1512.2,571.47 L1513.2,571.07 L1514.2,570.69 L1515.2,570.33 L1516.2,569.99 L1517.2,569.66 L1518.2,569.35 L1519.2,569.07 L1520.2,568.80 L1521.2,568.55 L1522.2,568.32 L1523.2,568.11 L1524.2,567.90 L1525.2,567.69 L1526.2,567.49 L1527.2,567.28 L1528.2,567.07 L1529.2,566.84 L1530.2,566.60 L1531.2,566.34 L1532.2,566.06 L1533.2,565.75 L1534.2,565.42 L1535.2,565.06 L1536.2,564.69 L1537.2,564.30 L1538.2,563.90 L1539.2,563.50 L1540.2,563.10 L1541.2,562.70 L1542.2,562.30 L1543.2,561.91 L1544.2,561.54 L1545.2,561.18 L1546.2,560.83 L1547.2,560.50 L1548.2,560.19 L1549.2,559.90 L1550.2,559.63 L1551.2,559.38 L1552.2,559.16 L1553.2,558.95 L1554.2,558.76 L1555.2,558.59 L1556.2,558.42 L1557.2,558.25 L1558.2,558.09 L1559.2,557.92 L1560.2,557.74 L1561.2,557.55 L1562.2,557.35 L1563.2,557.13 L1564.2,556.89 L1565.2,556.63 L1566.2,556.34 L1567.2,556.02 L1568.2,555.68 L1569.2,555.32 L1570.2,554.92 L1571.2,554.50 L1572.2,554.04 L1573.2,553.55 L1574.2,553.03 L1575.2,552.49 L1576.2,551.93 L1577.2,551.36 L1578.2,550.78 L1579.2,550.20 L1580.2,549.62 L1581.2,549.06 L1582.2,548.51 L1583.2,547.98 L1584.2,547.48 L1585.2,547.01 L1586.2,546.57 L1587.2,546.17 L1588.2,545.80 L1589.2,545.48 L1590.2,545.19 L1591.2,544.96 L1592.2,544.77 L1593.2,544.62 L1594.2,544.52 L1595.2,544.45 L1596.2,544.41 L1597.2,544.39 L1598.2,544.40 L1599.2,544.43 L1600.2,544.46 L1601.2,544.50 L1602.2,544.52 L1603.2,544.52 L1604.2,544.49 L1605.2,544.43 L1606.2,544.31 L1607.2,544.15 L1608.2,543.92 L1609.2,543.63 L1610.2,543.28 L1611.2,542.87 L1612.2,542.40 L1613.2,541.86 L1614.2,541.26 L1615.2,540.59 L1616.2,539.85 L1617.2,539.04 L1618.2,538.18 L1619.2,537.28 L1620.2,536.33 L1621.2,535.36 L1622.2,534.38 L1623.2,533.39 L1624.2,532.41 L1625.2,531.44 L1626.2,530.49 L1627.2,529.58 L1628.2,528.72 L1629.2,527.91 L1630.2,527.17 L1631.2,526.51 L1632.2,525.93 L1633.2,525.45 L1634.2,525.08 L1635.2,524.82 L1636.2,524.69 L1637.2,524.70 L1638.2,524.81 L1639.2,525.02 L1640.2,525.30 L1641.2,525.63 L1642.2,525.99 L1643.2,526.39 L1644.2,526.80 L1645.2,527.21 L1646.2,527.63 L1647.2,528.03 L1648.2,528.42 L1649.2,528.77 L1650.2,529.09 L1651.2,529.36 L1652.2,529.54 L1653.2,529.62 L1654.2,529.58 L1655.2,529.40 L1656.2,529.07 L1657.2,528.60 L1658.2,527.99 L1659.2,527.24 L1660.2,526.35 L1661.2,525.32 L1662.2,524.15 L1663.2,522.85 L1664.2,521.43 L1665.2,519.91 L1666.2,518.30 L1667.2,516.63 L1668.2,514.90 L1669.2,513.14 L1670.2,511.37 L1671.2,509.59 L1672.2,507.83 L1673.2,506.10 L1674.2,504.41 L1675.2,502.79 L1676.2,501.24 L1677.2,499.78 L1678.2,498.43 L1679.2,497.20 L1680.2,496.11 L1681.2,495.15 L1682.2,494.33 L1683.2,493.66 L1684.2,493.15 L1685.2,492.81 L1686.2,492.63 L1687.2,492.62 L1688.2,492.78 L1689.2,493.11 L1690.2,493.59 L1691.2,494.21 L1692.2,494.96 L1693.2,495.83 L1694.2,496.79 L1695.2,497.81 L1696.2,498.88 L1697.2,499.96 L1698.2,501.03 L1699.2,502.08 L1700.2,503.08 L1701.2,504.03 L1702.2,504.89 L1703.2,505.67 L1704.2,506.31 L1705.2,506.80 L1706.2,507.08 L1707.2,507.14 L1708.2,506.92 L1709.2,506.44 L1710.2,505.72 L1711.2,504.79 L1712.2,503.66 L1713.2,502.36 L1714.2,500.91 L1715.2,499.33 L1716.2,497.66 L1717.2,495.90 L1718.2,494.06 L1719.2,492.15 L1720.2,490.17 L1721.2,488.12 L1722.2,486.01 L1723.2,483.84 L1724.2,481.62 L1725.2,479.37 L1726.2,477.11 L1727.2,474.87 L1728.2,472.69 L1729.2,470.59 L1730.2,468.58 L1731.2,466.69 L1732.2,464.91 L1733.2,463.25 L1734.2,461.72 L1735.2,460.33 L1736.2,459.08 L1737.2,457.95 L1738.2,456.94 L1739.2,456.04 L1740.2,455.22 L1741.2,454.49 L1742.2,453.83 L1743.2,453.23 L1744.2,452.67 L1745.2,452.15 L1746.2,451.66 L1747.2,451.19 L1748.2,450.74 L1749.2,450.29 L1750.2,449.84 L1751.2,449.38 L1752.2,448.90 L1753.2,448.40 L1754.2,447.87 L1755.2,447.30 L1756.2,446.68 L1757.2,446.02 L1758.2,445.31 L1759.2,444.53 L1760.2,443.69 L1761.2,442.78 L1762.2,441.80 L1763.2,440.75 L1764.2,439.64 L1765.2,438.47 L1766.2,437.25 L1767.2,435.96 L1768.2,434.56 L1769.2,432.99 L1770.2,431.20 L1771.2,429.14 L1772.2,426.80 L1773.2,424.19 L1774.2,421.36 L1775.2,418.33 L1776.2,415.12 L1777.2,411.78 L1778.2,408.31 L1779.2,404.72 L1780.2,401.03 L1781.2,397.25 L1782.2,393.37 L1783.2,389.41 L1784.2,385.40 L1785.2,381.36 L1786.2,377.32 L1787.2,373.33 L1788.2,369.41 L1789.2,365.59 L1790.2,361.90 L1791.2,358.35 L1792.2,354.97 L1793.2,351.75 L1794.2,348.71 L1795.2,345.87 L1796.2,343.22 L1797.2,340.75 L1798.2,338.43 L1799.2,336.23 L1800.2,334.13 L1801.2,332.10 L1802.2,330.15 L1803.2,328.31 L1804.2,326.62 L1805.2,325.15 L1806.2,323.94 L1807.2,323.03 L1808.2,322.46 L1809.2,322.30 L1810.2,322.57 L1811.2,323.22 L1812.2,324.21 L1813.2,325.49 L1814.2,327.01 L1815.2,328.72 L1816.2,330.57 L1817.2,332.51 L1818.2,334.51 L1819.2,336.60 L1820.2,338.81 L1821.2,341.20 L1822.2,343.81 L1823.2,346.67 L1824.2,349.81 L1825.2,353.23 L1826.2,356.92 L1827.2,360.87 L1828.2,365.07 L1829.2,369.52 L1830.2,374.20 L1831.2,379.12 L1832.2,384.27 L1833.2,389.63 L1834.2,395.19 L1835.2,400.94 L1836.2,406.85 L1837.2,412.88 L1838.2,419.01 L1839.2,425.18 L1840.2,431.37 L1841.2,437.54 L1842.2,443.65 L1843.2,449.68 L1844.2,455.61 L1845.2,461.42 L1846.2,467.10 L1847.2,472.65 L1848.2,478.08 L1849.2,483.39 L1850.2,488.58 L1851.2,493.68 L1852.2,498.69 L1853.2,503.61 L1854.2,508.45 L1855.2,513.21 L1856.2,517.90 L1857.2,522.51 L1858.2,527.05 L1859.2,531.49 L1860.2,535.85 L1861.2,540.10 L1862.2,544.24 L1863.2,548.26 L1864.2,552.15 L1865.2,555.88 L1866.2,559.47 L1867.2,562.91 L1868.2,566.21 L1869.2,569.38 L1870.2,572.45 L1871.2,575.45 L1872.2,578.38 L1873.2,581.26 L1874.2,584.11 L1875.2,586.92 L1876.2,589.69 L1877.2,592.40 L1878.2,595.04 L1879.2,597.61 L1880.2,600.08 L1881.2,602.46 L1882.2,604.75 L1883.2,606.95 L1884.2,609.06 L1885.2,611.10 L1886.2,613.05 L1887.2,614.94 L1888.2,616.76 L1889.2,618.52 L1890.2,620.21 L1891.2,621.83 L1892.2,623.39 L1893.2,624.88 L1894.2,626.29 L1895.2,627.64 L1896.2,628.91 L1897.2,630.11 L1898.2,631.24 L1899.2,632.31 L1900.2,633.31 L1901.2,634.25 L1902.2,635.13 L1903.2,635.96 L1904.2,636.74 L1905.2,637.46 L1906.2,638.14 L1907.2,638.78 L1908.2,639.38 L1909.2,639.94 L1910.2,640.46 L1911.2,640.96 L1912.2,641.43 L1913.2,641.86 L1914.2,642.27 L1915.2,642.66 L1916.2,643.02 L1917.2,643.36 L1918.2,643.67 L1919.2,643.97 L1920.2,644.24 L1921.2,644.50 L1922.2,644.73 L1923.2,644.96 L1924.2,645.16 L1925.2,645.35 L1926.2,645.53 L1927.2,645.70 L1928.2,645.85 L1929.2,646.00 L1930.2,646.13 L1931.2,646.26 L1932.2,646.38 L1933.2,646.50 L1934.2,646.61 L1935.2,646.71 L1936.2,646.81 L1937.2,646.91 L1938.2,647.00 L1939.2,647.09 L1940.2,647.18 L1941.2,647.26 L1942.2,647.33 L1943.2,647.41 L1944.2,647.48 L1945.2,647.55 L1946.2,647.61 L1947.2,647.68 L1948.2,647.74 L1949.2,647.79 L1950.2,647.85 L1951.2,647.90 L1952.2,647.95 L1953.2,647.99 L1954.2,648.04 L1955.2,648.08 L1956.2,648.12 L1957.2,648.15 L1958.2,648.18 L1959.2,648.22 L1960.2,648.24 L1961.2,648.27 L1962.2,648.30 L1963.2,648.32 L1964.2,648.34 L1965.2,648.36 L1966.2,648.38 L1967.2,648.40 L1968.2,648.41 L1969.2,648.43 L1970.2,648.44 L1971.2,648.45 L1972.2,648.47 L1973.2,648.48 L1974.2,648.49 L1975.2,648.50 L1976.2,648.51 L1977.2,648.52 L1978.2,648.54 L1979.2,648.55 L1980.2,648.56 L1981.2,648.57 L1982.2,648.58 L1983.2,648.59 L1984.2,648.60 L1985.2,648.60 L1986.2,648.61 L1987.2,648.62 L1988.2,648.63 L1989.2,648.64 L1990.2,648.65 L1991.2,648.65 L1992.2,648.66 L1993.2,648.67 L1994.2,648.67 L1995.2,648.68 L1996.2,648.68 L1997.2,648.69 L1998.2,648.69 L1999.2,648.70 L2000.2,648.70 L2001.2,648.70 L2002.2,648.71 L2003.2,648.71 L2004.2,648.71 L2005.2,648.71 L2006.2,648.72 L2007.2,648.72 L2008.2,648.72 L2009.2,648.72 L2010.2,648.72 L2011.2,648.72 L2012.2,648.72 L2013.2,648.72 L2014.2,648.72 L2015.2,648.72 L2016.2,648.72 L2017.2,648.72 L2018.2,648.71 L2019.2,648.71 L2020.2,648.71 L2021.2,648.71 L2022.2,648.71 L2023.2,648.71 L2024.2,648.71 L2025.2,648.71 L2026.2,648.70 L2027.2,648.70 L2028.2,648.70 L2029.2,648.70 L2030.2,648.70 L2031.2,648.70 L2032.2,648.70 L2033.2,648.70 L2034.2,648.70 L2035.2,648.70 L2036.2,648.70 L2037.2,648.69 L2038.2,648.69 L2039.2,648.69 L2040.2,648.69 L2041.2,648.69 L2042.2,648.69 L2043.2,648.69 L2044.2,648.69 L2045.2,648.69 L2046.2,648.69 L2047.2,648.69 L2048.2,648.69 L2049.2,648.69 L2050.2,648.70 L2051.2,648.70 L2052.2,648.70 L2053.2,648.70 L2054.2,648.70 L2055.2,648.70 L2056.2,648.70 L2057.2,648.70 L2058.2,648.70 L2059.2,648.70 L2060.2,648.70" fill="none" stroke="#000" stroke-width="4.2" stroke-linejoin="round" stroke-linecap="round"/>
</g>
<text class="ax" x="419.8" y="730.2" textLength="151.2" lengthAdjust="spacingAndGlyphs">x Position</text>
<text class="ax" x="669.0" y="730.2" text-anchor="end" textLength="68.6" lengthAdjust="spacingAndGlyphs">(μm)</text>
<text class="ax" x="1476.0" y="730.2" textLength="152.2" lengthAdjust="spacingAndGlyphs">x Position</text>
<text class="ax" x="1726.7" y="730.2" text-anchor="end" textLength="68.6" lengthAdjust="spacingAndGlyphs">(μm)</text>
<text class="ax" style="font-size:36px" transform="translate(25.0,514.1) rotate(-90)" textLength="172.0" lengthAdjust="spacingAndGlyphs">Transverse</text><text class="ax" style="font-size:36px" transform="translate(25.0,333.2) rotate(-90)" textLength="88.0" lengthAdjust="spacingAndGlyphs">Force</text><text class="ax" style="font-size:36px" transform="translate(25.0,213.2) rotate(-90)" textLength="70.0" lengthAdjust="spacingAndGlyphs">(pN)</text>
<text class="ax" style="font-size:37px" transform="translate(1084.3,533.0) rotate(-90)" textLength="207.0" lengthAdjust="spacingAndGlyphs">Longitudinal</text><text class="ax" style="font-size:37px" transform="translate(1084.3,316.0) rotate(-90)" textLength="94.0" lengthAdjust="spacingAndGlyphs">Force</text><text class="ax" style="font-size:37px" transform="translate(1084.3,197.4) rotate(-90)" textLength="72.6" lengthAdjust="spacingAndGlyphs">(pN)</text>
<text class="pl" x="115.3" y="62.5">(a)</text>
<text class="pl" x="1174.6" y="55.8">(b)</text>
<rect x="760.7" y="24.5" width="190.0" height="107.8" fill="#fff" stroke="#222" stroke-width="1"/><line x1="771.5" y1="45.1" x2="834.7" y2="45.1" stroke="#ff0000" stroke-width="4.4" stroke-linecap="round"/><text class="lg" style="font-size:28px" x="841.2" y="54.1"><tspan font-style="italic">z</tspan>=0</text><line x1="771.5" y1="80.7" x2="834.7" y2="80.7" stroke="#0000ff" stroke-width="4.4" stroke-linecap="round"/><text class="lg" style="font-size:28px" x="841.2" y="90.2" textLength="90.4" lengthAdjust="spacingAndGlyphs"><tspan font-style="italic">z</tspan>=80μm</text><line x1="771.5" y1="116.5" x2="834.7" y2="116.5" stroke="#000" stroke-width="4.4" stroke-linecap="round"/><text class="lg" style="font-size:28px" x="841.2" y="125.6" textLength="103.4" lengthAdjust="spacingAndGlyphs"><tspan font-style="italic">z</tspan>=120μm</text>
<rect x="1819.6" y="21.5" width="191.5" height="107.8" fill="#fff" stroke="#222" stroke-width="1"/><line x1="1830.9" y1="41.6" x2="1894.7" y2="41.6" stroke="#ff0000" stroke-width="4.4" stroke-linecap="round"/><text class="lg" style="font-size:28.5px" x="1900.6" y="51.2"><tspan font-style="italic">z</tspan>=0</text><line x1="1830.9" y1="77.9" x2="1894.7" y2="77.9" stroke="#0000ff" stroke-width="4.4" stroke-linecap="round"/><text class="lg" style="font-size:28.5px" x="1900.6" y="87.0" textLength="91.6" lengthAdjust="spacingAndGlyphs"><tspan font-style="italic">z</tspan>=80μm</text><line x1="1830.9" y1="113.5" x2="1894.7" y2="113.5" stroke="#000" stroke-width="4.4" stroke-linecap="round"/><text class="lg" style="font-size:28.5px" x="1900.6" y="122.7" textLength="104.9" lengthAdjust="spacingAndGlyphs"><tspan font-style="italic">z</tspan>=120μm</text>
</svg></body></html>
